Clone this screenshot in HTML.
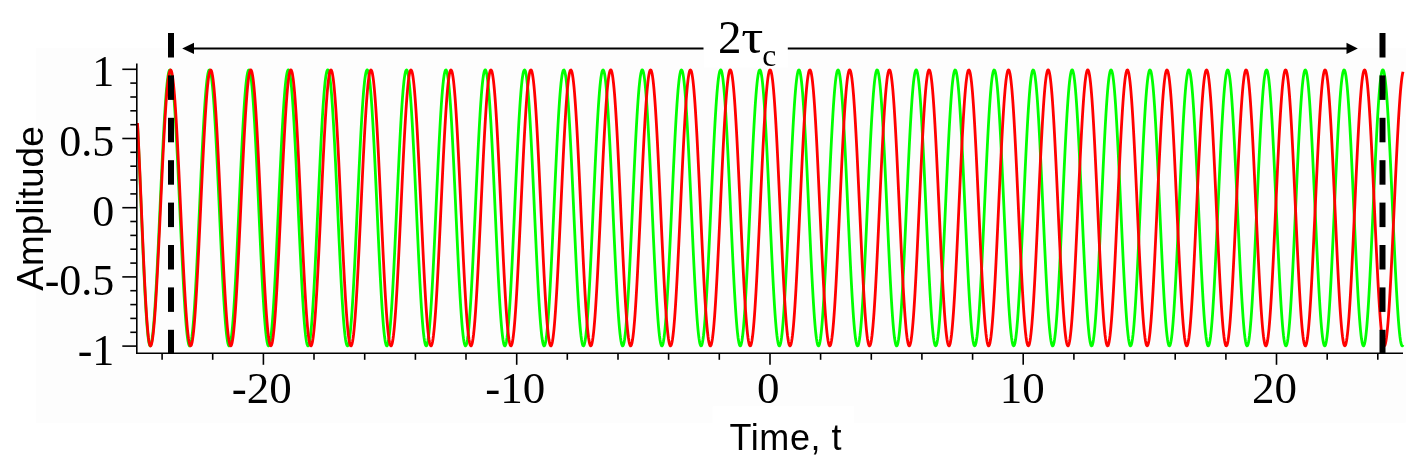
<!DOCTYPE html>
<html><head><meta charset="utf-8"><title>Coherence time</title>
<style>
html,body{margin:0;padding:0;background:#fff;}
body{width:1422px;height:475px;overflow:hidden;position:relative;}
svg{position:absolute;left:0;top:0;display:block;}
.serif{font-family:"Liberation Serif",serif;}
.sans{font-family:"Liberation Sans",sans-serif;}
</style></head><body>
<svg width="1422" height="475" viewBox="0 0 1422 475">
<rect width="1422" height="475" fill="#fff"/>
<rect x="36" y="48" width="1369.7" height="374.7" fill="#fdfdfd"/>
<rect x="703.7" y="47" width="84" height="20.5" fill="#fff"/>
<rect x="712.6" y="406.3" width="141.4" height="20" fill="#fff"/>
<polyline fill="none" stroke="#00ff00" stroke-width="2.8" stroke-linejoin="round" points="137.5,124.9 138.0,134.8 138.5,145.3 139.0,156.3 139.5,167.6 140.0,179.3 140.5,191.2 141.0,203.2 141.5,215.3 142.0,227.3 142.5,239.2 143.0,250.8 143.5,262.1 144.0,272.9 144.5,283.3 145.0,293.1 145.5,302.3 146.0,310.7 146.5,318.3 147.0,325.1 147.5,331.1 148.0,336.0 148.5,340.0 149.0,343.0 149.5,344.9 150.0,345.8 150.5,345.7 151.0,344.6 151.5,342.7 152.0,339.9 152.5,336.3 153.0,331.9 153.5,326.7 154.0,320.8 154.5,314.1 155.0,306.8 155.5,298.8 156.0,290.3 156.5,281.3 157.0,271.8 157.5,261.8 158.0,251.6 158.5,241.0 159.0,230.3 159.5,219.4 160.0,208.5 160.5,197.5 161.0,186.6 161.5,175.8 162.0,165.3 162.5,155.0 163.0,145.0 163.5,135.5 164.0,126.4 164.5,117.8 165.0,109.8 165.5,102.4 166.0,95.7 166.5,89.6 167.0,84.4 167.5,79.9 168.0,76.2 168.5,73.3 169.0,71.3 169.5,70.2 170.0,69.9 170.5,70.5 171.0,72.0 171.5,74.3 172.0,77.5 172.5,81.5 173.0,86.3 173.5,91.8 174.0,98.1 174.5,105.1 175.0,112.8 175.5,121.0 176.0,129.8 176.5,139.1 177.0,148.8 177.5,158.9 178.0,169.3 178.5,180.0 179.0,190.8 179.5,201.7 180.0,212.7 180.5,223.6 181.0,234.5 181.5,245.1 182.0,255.6 182.5,265.7 183.0,275.5 183.5,284.8 184.0,293.7 184.5,302.0 185.0,309.7 185.5,316.8 186.0,323.2 186.5,328.9 187.0,333.7 187.5,337.8 188.0,341.1 188.5,343.6 189.0,345.1 189.5,345.9 190.0,345.7 190.5,344.7 191.0,342.8 191.5,340.0 192.0,336.4 192.5,332.0 193.0,326.9 193.5,320.9 194.0,314.3 194.5,307.0 195.0,299.0 195.5,290.5 196.0,281.4 196.5,271.9 197.0,262.0 197.5,251.7 198.0,241.2 198.5,230.5 199.0,219.6 199.5,208.6 200.0,197.6 200.5,186.7 201.0,176.0 201.5,165.4 202.0,155.1 202.5,145.1 203.0,135.6 203.5,126.5 204.0,117.9 204.5,109.8 205.0,102.4 205.5,95.7 206.0,89.7 206.5,84.4 207.0,79.9 207.5,76.2 208.0,73.3 208.5,71.3 209.0,70.2 209.5,69.9 210.0,70.5 210.5,72.0 211.0,74.3 211.5,77.5 212.0,81.5 212.5,86.3 213.0,91.9 213.5,98.2 214.0,105.2 214.5,112.8 215.0,121.1 215.5,129.9 216.0,139.2 216.5,148.9 217.0,159.0 217.5,169.4 218.0,180.1 218.5,190.9 219.0,201.8 219.5,212.8 220.0,223.8 220.5,234.6 221.0,245.3 221.5,255.7 222.0,265.9 222.5,275.6 223.0,285.0 223.5,293.8 224.0,302.1 224.5,309.9 225.0,316.9 225.5,323.3 226.0,329.0 226.5,333.8 227.0,337.9 227.5,341.2 228.0,343.6 228.5,345.2 229.0,345.9 229.5,345.7 230.0,344.6 230.5,342.7 231.0,339.9 231.5,336.3 232.0,331.9 232.5,326.7 233.0,320.7 233.5,314.1 234.0,306.7 234.5,298.8 235.0,290.2 235.5,281.1 236.0,271.6 236.5,261.7 237.0,251.4 237.5,240.8 238.0,230.1 238.5,219.2 239.0,208.2 239.5,197.2 240.0,186.3 240.5,175.6 241.0,165.0 241.5,154.7 242.0,144.8 242.5,135.2 243.0,126.1 243.5,117.5 244.0,109.5 244.5,102.1 245.0,95.4 245.5,89.4 246.0,84.2 246.5,79.7 247.0,76.0 247.5,73.2 248.0,71.3 248.5,70.2 249.0,69.9 249.5,70.6 250.0,72.1 250.5,74.5 251.0,77.7 251.5,81.7 252.0,86.6 252.5,92.2 253.0,98.5 253.5,105.6 254.0,113.3 254.5,121.5 255.0,130.4 255.5,139.7 256.0,149.5 256.5,159.6 257.0,170.0 257.5,180.7 258.0,191.5 258.5,202.5 259.0,213.5 259.5,224.4 260.0,235.3 260.5,245.9 261.0,256.4 261.5,266.5 262.0,276.3 262.5,285.6 263.0,294.4 263.5,302.7 264.0,310.4 264.5,317.4 265.0,323.7 265.5,329.3 266.0,334.2 266.5,338.2 267.0,341.4 267.5,343.8 268.0,345.3 268.5,345.9 269.0,345.6 269.5,344.5 270.0,342.5 270.5,339.7 271.0,336.0 271.5,331.5 272.0,326.3 272.5,320.2 273.0,313.5 273.5,306.1 274.0,298.1 274.5,289.5 275.0,280.4 275.5,270.8 276.0,260.8 276.5,250.5 277.0,240.0 277.5,229.2 278.0,218.3 278.5,207.3 279.0,196.3 279.5,185.4 280.0,174.6 280.5,164.1 281.0,153.8 281.5,143.9 282.0,134.4 282.5,125.3 283.0,116.8 283.5,108.8 284.0,101.5 284.5,94.8 285.0,88.9 285.5,83.7 286.0,79.3 286.5,75.7 287.0,73.0 287.5,71.1 288.0,70.1 288.5,69.9 289.0,70.7 289.5,72.3 290.0,74.7 290.5,78.1 291.0,82.2 291.5,87.1 292.0,92.8 292.5,99.2 293.0,106.3 293.5,114.1 294.0,122.4 294.5,131.3 295.0,140.7 295.5,150.5 296.0,160.7 296.5,171.2 297.0,181.9 297.5,192.7 298.0,203.7 298.5,214.7 299.0,225.6 299.5,236.5 300.0,247.1 300.5,257.5 301.0,267.6 301.5,277.3 302.0,286.6 302.5,295.4 303.0,303.6 303.5,311.2 304.0,318.2 304.5,324.4 305.0,329.9 305.5,334.7 306.0,338.6 306.5,341.7 307.0,344.0 307.5,345.4 308.0,345.9 308.5,345.5 309.0,344.3 309.5,342.2 310.0,339.3 310.5,335.5 311.0,330.9 311.5,325.5 312.0,319.4 312.5,312.6 313.0,305.1 313.5,297.0 314.0,288.3 314.5,279.1 315.0,269.5 315.5,259.5 316.0,249.1 316.5,238.5 317.0,227.7 317.5,216.8 318.0,205.8 318.5,194.8 319.0,183.9 319.5,173.2 320.0,162.6 320.5,152.4 321.0,142.5 321.5,133.1 322.0,124.1 322.5,115.6 323.0,107.7 323.5,100.5 324.0,93.9 324.5,88.1 325.0,83.0 325.5,78.7 326.0,75.3 326.5,72.7 327.0,70.9 327.5,70.0 328.0,70.0 328.5,70.9 329.0,72.6 329.5,75.2 330.0,78.6 330.5,82.9 331.0,87.9 331.5,93.7 332.0,100.3 332.5,107.5 333.0,115.4 333.5,123.8 334.0,132.8 334.5,142.2 335.0,152.1 335.5,162.3 336.0,172.9 336.5,183.6 337.0,194.5 337.5,205.5 338.0,216.5 338.5,227.4 339.0,238.2 339.5,248.8 340.0,259.2 340.5,269.3 341.0,278.9 341.5,288.1 342.0,296.8 342.5,304.9 343.0,312.4 343.5,319.3 344.0,325.4 344.5,330.8 345.0,335.4 345.5,339.2 346.0,342.2 346.5,344.3 347.0,345.5 347.5,345.9 348.0,345.4 348.5,344.0 349.0,341.8 349.5,338.7 350.0,334.7 350.5,330.0 351.0,324.5 351.5,318.3 352.0,311.3 352.5,303.7 353.0,295.5 353.5,286.7 354.0,277.4 354.5,267.7 355.0,257.6 355.5,247.2 356.0,236.5 356.5,225.7 357.0,214.7 357.5,203.7 358.0,192.8 358.5,181.9 359.0,171.2 359.5,160.7 360.0,150.5 360.5,140.7 361.0,131.3 361.5,122.4 362.0,114.0 362.5,106.3 363.0,99.2 363.5,92.7 364.0,87.1 364.5,82.1 365.0,78.0 365.5,74.7 366.0,72.3 366.5,70.7 367.0,69.9 367.5,70.1 368.0,71.1 368.5,73.0 369.0,75.8 369.5,79.4 370.0,83.8 370.5,89.0 371.0,95.0 371.5,101.7 372.0,109.0 372.5,117.0 373.0,125.6 373.5,134.7 374.0,144.2 374.5,154.2 375.0,164.5 375.5,175.1 376.0,185.9 376.5,196.8 377.0,207.8 377.5,218.8 378.0,229.7 378.5,240.5 379.0,251.1 379.5,261.4 380.0,271.4 380.5,280.9 381.0,290.0 381.5,298.6 382.0,306.6 382.5,314.0 383.0,320.7 383.5,326.6 384.0,331.9 384.5,336.3 385.0,339.9 385.5,342.7 386.0,344.6 386.5,345.7 387.0,345.9 387.5,345.2 388.0,343.6 388.5,341.1 389.0,337.9 389.5,333.7 390.0,328.8 390.5,323.2 391.0,316.7 391.5,309.6 392.0,301.9 392.5,293.5 393.0,284.6 393.5,275.2 394.0,265.4 394.5,255.2 395.0,244.7 395.5,234.0 396.0,223.1 396.5,212.2 397.0,201.2 397.5,190.2 398.0,179.3 398.5,168.7 399.0,158.2 399.5,148.1 400.0,138.4 400.5,129.1 401.0,120.3 401.5,112.1 402.0,104.5 402.5,97.5 403.0,91.3 403.5,85.8 404.0,81.0 404.5,77.1 405.0,74.0 405.5,71.8 406.0,70.4 406.5,69.9 407.0,70.3 407.5,71.5 408.0,73.7 408.5,76.6 409.0,80.4 409.5,85.1 410.0,90.5 410.5,96.6 411.0,103.5 411.5,111.0 412.0,119.2 412.5,127.9 413.0,137.1 413.5,146.8 414.0,156.8 414.5,167.2 415.0,177.8 415.5,188.7 416.0,199.6 416.5,210.6 417.0,221.6 417.5,232.5 418.0,243.3 418.5,253.8 419.0,264.0 419.5,273.9 420.0,283.4 420.5,292.3 421.0,300.8 421.5,308.6 422.0,315.8 422.5,322.3 423.0,328.1 423.5,333.1 424.0,337.4 424.5,340.8 425.0,343.3 425.5,345.0 426.0,345.8 426.5,345.8 427.0,344.8 427.5,343.0 428.0,340.3 428.5,336.8 429.0,332.5 429.5,327.3 430.0,321.4 430.5,314.8 431.0,307.5 431.5,299.6 432.0,291.1 432.5,282.0 433.0,272.5 433.5,262.6 434.0,252.3 434.5,241.7 435.0,231.0 435.5,220.0 436.0,209.0 436.5,198.0 437.0,187.1 437.5,176.3 438.0,165.6 438.5,155.3 439.0,145.3 439.5,135.7 440.0,126.5 440.5,117.9 441.0,109.8 441.5,102.4 442.0,95.6 442.5,89.6 443.0,84.3 443.5,79.8 444.0,76.1 444.5,73.3 445.0,71.3 445.5,70.2 446.0,69.9 446.5,70.6 447.0,72.1 447.5,74.5 448.0,77.7 448.5,81.7 449.0,86.6 449.5,92.3 450.0,98.6 450.5,105.7 451.0,113.4 451.5,121.7 452.0,130.6 452.5,140.0 453.0,149.8 453.5,160.0 454.0,170.4 454.5,181.2 455.0,192.0 455.5,203.0 456.0,214.1 456.5,225.0 457.0,235.9 457.5,246.6 458.0,257.0 458.5,267.2 459.0,276.9 459.5,286.2 460.0,295.1 460.5,303.3 461.0,311.0 461.5,318.0 462.0,324.3 462.5,329.8 463.0,334.6 463.5,338.5 464.0,341.7 464.5,344.0 465.0,345.4 465.5,345.9 466.0,345.5 466.5,344.3 467.0,342.2 467.5,339.3 468.0,335.5 468.5,330.9 469.0,325.5 469.5,319.4 470.0,312.5 470.5,305.0 471.0,296.9 471.5,288.2 472.0,278.9 472.5,269.3 473.0,259.2 473.5,248.8 474.0,238.2 474.5,227.3 475.0,216.4 475.5,205.3 476.0,194.3 476.5,183.4 477.0,172.7 477.5,162.1 478.0,151.9 478.5,142.0 479.0,132.5 479.5,123.5 480.0,115.1 480.5,107.2 481.0,100.0 481.5,93.5 482.0,87.7 482.5,82.7 483.0,78.4 483.5,75.0 484.0,72.5 484.5,70.8 485.0,70.0 485.5,70.0 486.0,71.0 486.5,72.8 487.0,75.5 487.5,79.0 488.0,83.4 488.5,88.5 489.0,94.4 489.5,101.0 490.0,108.4 490.5,116.3 491.0,124.8 491.5,133.9 492.0,143.4 492.5,153.4 493.0,163.7 493.5,174.2 494.0,185.0 494.5,196.0 495.0,207.0 495.5,218.0 496.0,229.0 496.5,239.8 497.0,250.4 497.5,260.8 498.0,270.8 498.5,280.4 499.0,289.5 499.5,298.1 500.0,306.2 500.5,313.6 501.0,320.4 501.5,326.4 502.0,331.7 502.5,336.1 503.0,339.8 503.5,342.6 504.0,344.6 504.5,345.7 505.0,345.9 505.5,345.2 506.0,343.6 506.5,341.2 507.0,338.0 507.5,333.9 508.0,329.0 508.5,323.3 509.0,316.9 509.5,309.7 510.0,302.0 510.5,293.6 511.0,284.7 511.5,275.3 512.0,265.5 512.5,255.3 513.0,244.8 513.5,234.0 514.0,223.1 514.5,212.1 515.0,201.1 515.5,190.1 516.0,179.2 516.5,168.6 517.0,158.1 517.5,148.0 518.0,138.3 518.5,129.0 519.0,120.2 519.5,112.0 520.0,104.3 520.5,97.4 521.0,91.1 521.5,85.6 522.0,80.9 522.5,77.0 523.0,73.9 523.5,71.7 524.0,70.4 524.5,69.9 525.0,70.3 525.5,71.6 526.0,73.8 526.5,76.8 527.0,80.7 527.5,85.3 528.0,90.8 528.5,97.0 529.0,103.9 529.5,111.5 530.0,119.7 530.5,128.4 531.0,137.7 531.5,147.4 532.0,157.5 532.5,167.9 533.0,178.6 533.5,189.5 534.0,200.5 534.5,211.5 535.0,222.5 535.5,233.4 536.0,244.2 536.5,254.7 537.0,264.9 537.5,274.8 538.0,284.2 538.5,293.2 539.0,301.6 539.5,309.4 540.0,316.5 540.5,323.0 541.0,328.7 541.5,333.6 542.0,337.8 542.5,341.1 543.0,343.5 543.5,345.1 544.0,345.9 544.5,345.7 545.0,344.6 545.5,342.7 546.0,339.9 546.5,336.3 547.0,331.9 547.5,326.6 548.0,320.6 548.5,313.9 549.0,306.5 549.5,298.5 550.0,289.9 550.5,280.7 551.0,271.1 551.5,261.1 552.0,250.8 552.5,240.2 553.0,229.3 553.5,218.4 554.0,207.3 554.5,196.3 555.0,185.4 555.5,174.6 556.0,164.0 556.5,153.7 557.0,143.7 557.5,134.1 558.0,125.0 558.5,116.5 559.0,108.5 559.5,101.2 560.0,94.5 560.5,88.6 561.0,83.4 561.5,79.1 562.0,75.5 562.5,72.8 563.0,71.0 563.5,70.1 564.0,70.0 564.5,70.8 565.0,72.5 565.5,75.0 566.0,78.4 566.5,82.7 567.0,87.7 567.5,93.5 568.0,100.0 568.5,107.3 569.0,115.1 569.5,123.6 570.0,132.6 570.5,142.1 571.0,152.0 571.5,162.2 572.0,172.8 572.5,183.6 573.0,194.5 573.5,205.5 574.0,216.6 574.5,227.6 575.0,238.4 575.5,249.1 576.0,259.5 576.5,269.5 577.0,279.2 577.5,288.4 578.0,297.1 578.5,305.3 579.0,312.8 579.5,319.6 580.0,325.7 580.5,331.1 581.0,335.7 581.5,339.4 582.0,342.3 582.5,344.4 583.0,345.6 583.5,345.9 584.0,345.3 584.5,343.8 585.0,341.5 585.5,338.3 586.0,334.3 586.5,329.5 587.0,323.9 587.5,317.5 588.0,310.5 588.5,302.7 589.0,294.4 589.5,285.6 590.0,276.2 590.5,266.4 591.0,256.2 591.5,245.7 592.0,235.0 592.5,224.1 593.0,213.1 593.5,202.0 594.0,191.0 594.5,180.1 595.0,169.4 595.5,158.9 596.0,148.7 596.5,139.0 597.0,129.6 597.5,120.8 598.0,112.5 598.5,104.8 599.0,97.8 599.5,91.5 600.0,86.0 600.5,81.2 601.0,77.2 601.5,74.1 602.0,71.8 602.5,70.4 603.0,69.9 603.5,70.3 604.0,71.5 604.5,73.6 605.0,76.6 605.5,80.4 606.0,85.1 606.5,90.5 607.0,96.7 607.5,103.6 608.0,111.1 608.5,119.3 609.0,128.1 609.5,137.3 610.0,147.0 610.5,157.1 611.0,167.5 611.5,178.2 612.0,189.1 612.5,200.1 613.0,211.1 613.5,222.2 614.0,233.1 614.5,243.9 615.0,254.4 615.5,264.7 616.0,274.5 616.5,284.0 617.0,293.0 617.5,301.4 618.0,309.2 618.5,316.4 619.0,322.9 619.5,328.6 620.0,333.6 620.5,337.7 621.0,341.0 621.5,343.5 622.0,345.1 622.5,345.9 623.0,345.7 623.5,344.7 624.0,342.7 624.5,340.0 625.0,336.3 625.5,331.9 626.0,326.6 626.5,320.6 627.0,313.9 627.5,306.5 628.0,298.4 628.5,289.8 629.0,280.7 629.5,271.0 630.0,261.0 630.5,250.7 631.0,240.0 631.5,229.2 632.0,218.2 632.5,207.2 633.0,196.1 633.5,185.2 634.0,174.3 634.5,163.7 635.0,153.4 635.5,143.4 636.0,133.9 636.5,124.8 637.0,116.3 637.5,108.3 638.0,101.0 638.5,94.3 639.0,88.4 639.5,83.3 640.0,78.9 640.5,75.4 641.0,72.8 641.5,71.0 642.0,70.0 642.5,70.0 643.0,70.8 643.5,72.6 644.0,75.2 644.5,78.6 645.0,82.9 645.5,88.0 646.0,93.8 646.5,100.4 647.0,107.7 647.5,115.6 648.0,124.1 648.5,133.1 649.0,142.6 649.5,152.6 650.0,162.9 650.5,173.5 651.0,184.3 651.5,195.2 652.0,206.3 652.5,217.3 653.0,228.3 653.5,239.2 654.0,249.8 654.5,260.2 655.0,270.3 655.5,279.9 656.0,289.1 656.5,297.8 657.0,305.9 657.5,313.3 658.0,320.1 658.5,326.2 659.0,331.5 659.5,336.0 660.0,339.7 660.5,342.6 661.0,344.5 661.5,345.7 662.0,345.9 662.5,345.2 663.0,343.7 663.5,341.2 664.0,338.0 664.5,333.9 665.0,329.0 665.5,323.3 666.0,316.8 666.5,309.7 667.0,301.9 667.5,293.5 668.0,284.6 668.5,275.1 669.0,265.3 669.5,255.0 670.0,244.5 670.5,233.7 671.0,222.8 671.5,211.8 672.0,200.7 672.5,189.7 673.0,178.8 673.5,168.1 674.0,157.6 674.5,147.5 675.0,137.8 675.5,128.5 676.0,119.7 676.5,111.5 677.0,103.9 677.5,97.0 678.0,90.7 678.5,85.3 679.0,80.6 679.5,76.7 680.0,73.7 680.5,71.6 681.0,70.3 681.5,69.9 682.0,70.4 682.5,71.8 683.0,74.0 683.5,77.1 684.0,81.1 684.5,85.8 685.0,91.4 685.5,97.7 686.0,104.7 686.5,112.3 687.0,120.6 687.5,129.5 688.0,138.8 688.5,148.6 689.0,158.8 689.5,169.3 690.0,180.0 690.5,190.9 691.0,201.9 691.5,213.0 692.0,224.0 692.5,234.9 693.0,245.7 693.5,256.2 694.0,266.4 694.5,276.2 695.0,285.6 695.5,294.5 696.0,302.8 696.5,310.5 697.0,317.6 697.5,324.0 698.0,329.6 698.5,334.4 699.0,338.4 699.5,341.6 700.0,343.9 700.5,345.3 701.0,345.9 701.5,345.6 702.0,344.4 702.5,342.3 703.0,339.3 703.5,335.5 704.0,330.9 704.5,325.5 705.0,319.3 705.5,312.4 706.0,304.9 706.5,296.7 707.0,288.0 707.5,278.7 708.0,269.0 708.5,258.9 709.0,248.4 709.5,237.7 710.0,226.8 710.5,215.8 711.0,204.8 711.5,193.7 712.0,182.8 712.5,172.0 713.0,161.4 713.5,151.2 714.0,141.3 714.5,131.8 715.0,122.8 715.5,114.4 716.0,106.6 716.5,99.4 717.0,92.9 717.5,87.2 718.0,82.2 718.5,78.0 719.0,74.7 719.5,72.2 720.0,70.7 720.5,69.9 721.0,70.1 721.5,71.2 722.0,73.1 722.5,75.9 723.0,79.6 723.5,84.1 724.0,89.3 724.5,95.4 725.0,102.2 725.5,109.6 726.0,117.7 726.5,126.3 727.0,135.5 727.5,145.2 728.0,155.2 728.5,165.6 729.0,176.3 729.5,187.1 730.0,198.1 730.5,209.2 731.0,220.3 731.5,231.2 732.0,242.1 732.5,252.7 733.0,263.0 733.5,272.9 734.0,282.5 734.5,291.6 735.0,300.1 735.5,308.0 736.0,315.3 736.5,321.9 737.0,327.8 737.5,332.9 738.0,337.2 738.5,340.6 739.0,343.2 739.5,345.0 740.0,345.8 740.5,345.8 741.0,344.8 741.5,343.0 742.0,340.4 742.5,336.8 743.0,332.5 743.5,327.3 744.0,321.4 744.5,314.7 745.0,307.4 745.5,299.4 746.0,290.8 746.5,281.7 747.0,272.1 747.5,262.2 748.0,251.8 748.5,241.2 749.0,230.3 749.5,219.3 750.0,208.3 750.5,197.2 751.0,186.2 751.5,175.4 752.0,164.7 752.5,154.4 753.0,144.3 753.5,134.7 754.0,125.6 754.5,117.0 755.0,108.9 755.5,101.5 756.0,94.8 756.5,88.8 757.0,83.6 757.5,79.2 758.0,75.6 758.5,72.9 759.0,71.0 759.5,70.1 760.0,70.0 760.5,70.8 761.0,72.4 761.5,75.0 762.0,78.4 762.5,82.6 763.0,87.7 763.5,93.5 764.0,100.1 764.5,107.3 765.0,115.2 765.5,123.7 766.0,132.7 766.5,142.3 767.0,152.2 767.5,162.5 768.0,173.1 768.5,183.9 769.0,194.9 769.5,206.0 770.0,217.0 770.5,228.1 771.0,238.9 771.5,249.6 772.0,260.0 772.5,270.1 773.0,279.8 773.5,289.0 774.0,297.7 774.5,305.8 775.0,313.3 775.5,320.1 776.0,326.2 776.5,331.5 777.0,336.0 777.5,339.7 778.0,342.6 778.5,344.6 779.0,345.7 779.5,345.9 780.0,345.2 780.5,343.6 781.0,341.2 781.5,337.9 782.0,333.8 782.5,328.8 783.0,323.1 783.5,316.6 784.0,309.5 784.5,301.7 785.0,293.2 785.5,284.3 786.0,274.8 786.5,264.9 787.0,254.6 787.5,244.1 788.0,233.3 788.5,222.3 789.0,211.2 789.5,200.2 790.0,189.1 790.5,178.2 791.0,167.5 791.5,157.1 792.0,146.9 792.5,137.2 793.0,127.9 793.5,119.2 794.0,111.0 794.5,103.4 795.0,96.5 795.5,90.3 796.0,84.9 796.5,80.3 797.0,76.5 797.5,73.5 798.0,71.4 798.5,70.2 799.0,69.9 799.5,70.5 800.0,71.9 800.5,74.3 801.0,77.5 801.5,81.5 802.0,86.3 802.5,92.0 803.0,98.3 803.5,105.4 804.0,113.2 804.5,121.5 805.0,130.5 805.5,139.9 806.0,149.7 806.5,160.0 807.0,170.5 807.5,181.3 808.0,192.2 808.5,203.3 809.0,214.4 809.5,225.4 810.0,236.3 810.5,247.1 811.0,257.6 811.5,267.7 812.0,277.5 812.5,286.9 813.0,295.7 813.5,303.9 814.0,311.6 814.5,318.6 815.0,324.8 815.5,330.3 816.0,335.0 816.5,338.9 817.0,342.0 817.5,344.2 818.0,345.5 818.5,345.9 819.0,345.4 819.5,344.1 820.0,341.8 820.5,338.7 821.0,334.8 821.5,330.0 822.0,324.5 822.5,318.2 823.0,311.1 823.5,303.5 824.0,295.2 824.5,286.3 825.0,276.9 825.5,267.1 826.0,256.9 826.5,246.4 827.0,235.7 827.5,224.7 828.0,213.7 828.5,202.6 829.0,191.5 829.5,180.6 830.0,169.8 830.5,159.3 831.0,149.1 831.5,139.2 832.0,129.9 832.5,121.0 833.0,112.7 833.5,104.9 834.0,97.9 834.5,91.6 835.0,86.0 835.5,81.2 836.0,77.2 836.5,74.1 837.0,71.8 837.5,70.4 838.0,69.9 838.5,70.3 839.0,71.6 839.5,73.7 840.0,76.7 840.5,80.6 841.0,85.3 841.5,90.8 842.0,97.0 842.5,104.0 843.0,111.6 843.5,119.8 844.0,128.7 844.5,138.0 845.0,147.8 845.5,157.9 846.0,168.4 846.5,179.2 847.0,190.1 847.5,201.1 848.0,212.2 848.5,223.3 849.0,234.2 849.5,245.0 850.0,255.6 850.5,265.8 851.0,275.7 851.5,285.1 852.0,294.1 852.5,302.4 853.0,310.2 853.5,317.3 854.0,323.7 854.5,329.4 855.0,334.2 855.5,338.3 856.0,341.5 856.5,343.8 857.0,345.3 857.5,345.9 858.0,345.6 858.5,344.4 859.0,342.3 859.5,339.3 860.0,335.5 860.5,330.9 861.0,325.5 861.5,319.3 862.0,312.4 862.5,304.9 863.0,296.7 863.5,287.9 864.0,278.6 864.5,268.8 865.0,258.7 865.5,248.2 866.0,237.5 866.5,226.6 867.0,215.5 867.5,204.4 868.0,193.4 868.5,182.4 869.0,171.6 869.5,161.0 870.0,150.7 870.5,140.8 871.0,131.4 871.5,122.4 872.0,114.0 872.5,106.1 873.0,99.0 873.5,92.5 874.0,86.8 874.5,81.9 875.0,77.8 875.5,74.5 876.0,72.1 876.5,70.6 877.0,69.9 877.5,70.2 878.0,71.3 878.5,73.3 879.0,76.2 879.5,80.0 880.0,84.5 880.5,89.9 881.0,96.0 881.5,102.9 882.0,110.4 882.5,118.6 883.0,127.3 883.5,136.6 884.0,146.3 884.5,156.4 885.0,166.9 885.5,177.6 886.0,188.5 886.5,199.5 887.0,210.6 887.5,221.7 888.0,232.7 888.5,243.5 889.0,254.1 889.5,264.4 890.0,274.4 890.5,283.9 891.0,292.9 891.5,301.3 892.0,309.2 892.5,316.4 893.0,322.9 893.5,328.7 894.0,333.6 894.5,337.8 895.0,341.1 895.5,343.6 896.0,345.2 896.5,345.9 897.0,345.7 897.5,344.6 898.0,342.6 898.5,339.8 899.0,336.1 899.5,331.6 900.0,326.2 900.5,320.1 901.0,313.3 901.5,305.8 902.0,297.7 902.5,289.0 903.0,279.8 903.5,270.1 904.0,259.9 904.5,249.5 905.0,238.8 905.5,227.9 906.0,216.9 906.5,205.8 907.0,194.7 907.5,183.7 908.0,172.8 908.5,162.2 909.0,151.9 909.5,141.9 910.0,132.4 910.5,123.4 911.0,114.9 911.5,107.0 912.0,99.7 912.5,93.2 913.0,87.4 913.5,82.4 914.0,78.2 914.5,74.8 915.0,72.3 915.5,70.7 916.0,69.9 916.5,70.1 917.0,71.1 917.5,73.1 918.0,75.9 918.5,79.5 919.0,84.0 919.5,89.3 920.0,95.4 920.5,102.2 921.0,109.6 921.5,117.7 922.0,126.4 922.5,135.6 923.0,145.3 923.5,155.4 924.0,165.8 924.5,176.6 925.0,187.5 925.5,198.5 926.0,209.6 926.5,220.7 927.0,231.7 927.5,242.5 928.0,253.2 928.5,263.5 929.0,273.5 929.5,283.0 930.0,292.1 930.5,300.6 931.0,308.5 931.5,315.8 932.0,322.4 932.5,328.2 933.0,333.2 933.5,337.5 934.0,340.9 934.5,343.4 935.0,345.1 935.5,345.8 936.0,345.7 936.5,344.7 937.0,342.8 937.5,340.0 938.0,336.4 938.5,331.9 939.0,326.7 939.5,320.6 940.0,313.9 940.5,306.4 941.0,298.3 941.5,289.7 942.0,280.4 942.5,270.8 943.0,260.7 943.5,250.3 944.0,239.6 944.5,228.7 945.0,217.6 945.5,206.5 946.0,195.4 946.5,184.4 947.0,173.6 947.5,162.9 948.0,152.6 948.5,142.6 949.0,133.0 949.5,123.9 950.0,115.4 950.5,107.5 951.0,100.2 951.5,93.6 952.0,87.7 952.5,82.7 953.0,78.4 953.5,75.0 954.0,72.4 954.5,70.8 955.0,70.0 955.5,70.1 956.0,71.1 956.5,72.9 957.0,75.7 957.5,79.3 958.0,83.8 958.5,89.0 959.0,95.0 959.5,101.8 960.0,109.2 960.5,117.3 961.0,126.0 961.5,135.2 962.0,144.9 962.5,154.9 963.0,165.4 963.5,176.1 964.0,187.0 964.5,198.0 965.0,209.1 965.5,220.2 966.0,231.2 966.5,242.1 967.0,252.7 967.5,263.1 968.0,273.1 968.5,282.7 969.0,291.7 969.5,300.3 970.0,308.2 970.5,315.5 971.0,322.1 971.5,328.0 972.0,333.1 972.5,337.3 973.0,340.8 973.5,343.3 974.0,345.0 974.5,345.8 975.0,345.7 975.5,344.7 976.0,342.9 976.5,340.1 977.0,336.5 977.5,332.1 978.0,326.8 978.5,320.8 979.0,314.1 979.5,306.6 980.0,298.5 980.5,289.9 981.0,280.7 981.5,271.0 982.0,260.9 982.5,250.5 983.0,239.8 983.5,228.9 984.0,217.8 984.5,206.7 985.0,195.6 985.5,184.6 986.0,173.7 986.5,163.1 987.0,152.7 987.5,142.7 988.0,133.1 988.5,124.1 989.0,115.5 989.5,107.6 990.0,100.3 990.5,93.7 991.0,87.8 991.5,82.7 992.0,78.4 992.5,75.0 993.0,72.5 993.5,70.8 994.0,70.0 994.5,70.1 995.0,71.1 995.5,72.9 996.0,75.7 996.5,79.3 997.0,83.8 997.5,89.0 998.0,95.0 998.5,101.8 999.0,109.2 999.5,117.3 1000.0,126.0 1000.5,135.2 1001.0,144.9 1001.5,155.0 1002.0,165.4 1002.5,176.1 1003.0,187.0 1003.5,198.1 1004.0,209.2 1004.5,220.3 1005.0,231.3 1005.5,242.2 1006.0,252.8 1006.5,263.2 1007.0,273.2 1007.5,282.8 1008.0,291.8 1008.5,300.4 1009.0,308.3 1009.5,315.6 1010.0,322.2 1010.5,328.1 1011.0,333.1 1011.5,337.4 1012.0,340.8 1012.5,343.4 1013.0,345.1 1013.5,345.8 1014.0,345.7 1014.5,344.7 1015.0,342.8 1015.5,340.1 1016.0,336.4 1016.5,332.0 1017.0,326.7 1017.5,320.7 1018.0,313.9 1018.5,306.4 1019.0,298.3 1019.5,289.6 1020.0,280.4 1020.5,270.7 1021.0,260.6 1021.5,250.2 1022.0,239.5 1022.5,228.6 1023.0,217.5 1023.5,206.4 1024.0,195.3 1024.5,184.3 1025.0,173.4 1025.5,162.7 1026.0,152.4 1026.5,142.4 1027.0,132.8 1027.5,123.7 1028.0,115.2 1028.5,107.3 1029.0,100.0 1029.5,93.4 1030.0,87.6 1030.5,82.5 1031.0,78.3 1031.5,74.9 1032.0,72.4 1032.5,70.7 1033.0,70.0 1033.5,70.1 1034.0,71.1 1034.5,73.0 1035.0,75.8 1035.5,79.5 1036.0,84.0 1036.5,89.3 1037.0,95.3 1037.5,102.1 1038.0,109.6 1038.5,117.7 1039.0,126.4 1039.5,135.7 1040.0,145.4 1040.5,155.5 1041.0,166.0 1041.5,176.7 1042.0,187.6 1042.5,198.7 1043.0,209.8 1043.5,220.9 1044.0,231.9 1044.5,242.8 1045.0,253.4 1045.5,263.8 1046.0,273.8 1046.5,283.3 1047.0,292.4 1047.5,300.9 1048.0,308.8 1048.5,316.1 1049.0,322.6 1049.5,328.4 1050.0,333.4 1050.5,337.7 1051.0,341.0 1051.5,343.5 1052.0,345.1 1052.5,345.9 1053.0,345.7 1053.5,344.6 1054.0,342.7 1054.5,339.8 1055.0,336.1 1055.5,331.6 1056.0,326.3 1056.5,320.2 1057.0,313.4 1057.5,305.8 1058.0,297.7 1058.5,289.0 1059.0,279.7 1059.5,270.0 1060.0,259.8 1060.5,249.4 1061.0,238.6 1061.5,227.7 1062.0,216.6 1062.5,205.5 1063.0,194.4 1063.5,183.4 1064.0,172.5 1064.5,161.9 1065.0,151.5 1065.5,141.6 1066.0,132.0 1066.5,123.0 1067.0,114.5 1067.5,106.6 1068.0,99.4 1068.5,92.9 1069.0,87.1 1069.5,82.1 1070.0,78.0 1070.5,74.6 1071.0,72.2 1071.5,70.6 1072.0,69.9 1072.5,70.1 1073.0,71.3 1073.5,73.3 1074.0,76.1 1074.5,79.9 1075.0,84.5 1075.5,89.8 1076.0,96.0 1076.5,102.8 1077.0,110.4 1077.5,118.6 1078.0,127.4 1078.5,136.6 1079.0,146.4 1079.5,156.6 1080.0,167.0 1080.5,177.8 1081.0,188.8 1081.5,199.8 1082.0,211.0 1082.5,222.1 1083.0,233.1 1083.5,243.9 1084.0,254.6 1084.5,264.9 1085.0,274.8 1085.5,284.3 1086.0,293.4 1086.5,301.8 1087.0,309.7 1087.5,316.8 1088.0,323.3 1088.5,329.0 1089.0,334.0 1089.5,338.1 1090.0,341.4 1090.5,343.7 1091.0,345.3 1091.5,345.9 1092.0,345.6 1092.5,344.4 1093.0,342.4 1093.5,339.4 1094.0,335.6 1094.5,331.0 1095.0,325.6 1095.5,319.4 1096.0,312.5 1096.5,304.9 1097.0,296.6 1097.5,287.8 1098.0,278.5 1098.5,268.7 1099.0,258.5 1099.5,248.0 1100.0,237.2 1100.5,226.3 1101.0,215.2 1101.5,204.0 1102.0,192.9 1102.5,181.9 1103.0,171.1 1103.5,160.5 1104.0,150.2 1104.5,140.3 1105.0,130.8 1105.5,121.8 1106.0,113.4 1106.5,105.6 1107.0,98.5 1107.5,92.0 1108.0,86.4 1108.5,81.5 1109.0,77.4 1109.5,74.2 1110.0,71.9 1110.5,70.5 1111.0,69.9 1111.5,70.3 1112.0,71.5 1112.5,73.6 1113.0,76.6 1113.5,80.5 1114.0,85.2 1114.5,90.7 1115.0,96.9 1115.5,103.9 1116.0,111.6 1116.5,119.9 1117.0,128.7 1117.5,138.1 1118.0,147.9 1118.5,158.1 1119.0,168.7 1119.5,179.5 1120.0,190.5 1120.5,201.6 1121.0,212.7 1121.5,223.8 1122.0,234.8 1122.5,245.6 1123.0,256.2 1123.5,266.5 1124.0,276.4 1124.5,285.8 1125.0,294.7 1125.5,303.1 1126.0,310.9 1126.5,317.9 1127.0,324.3 1127.5,329.9 1128.0,334.7 1128.5,338.7 1129.0,341.8 1129.5,344.1 1130.0,345.4 1130.5,345.9 1131.0,345.5 1131.5,344.1 1132.0,341.9 1132.5,338.8 1133.0,334.9 1133.5,330.1 1134.0,324.6 1134.5,318.2 1135.0,311.2 1135.5,303.5 1136.0,295.1 1136.5,286.2 1137.0,276.8 1137.5,266.9 1138.0,256.7 1138.5,246.1 1139.0,235.3 1139.5,224.3 1140.0,213.2 1140.5,202.0 1141.0,190.9 1141.5,179.9 1142.0,169.1 1142.5,158.6 1143.0,148.3 1143.5,138.5 1144.0,129.1 1144.5,120.2 1145.0,111.9 1145.5,104.2 1146.0,97.2 1146.5,90.9 1147.0,85.4 1147.5,80.7 1148.0,76.8 1148.5,73.7 1149.0,71.6 1149.5,70.3 1150.0,69.9 1150.5,70.4 1151.0,71.8 1151.5,74.1 1152.0,77.3 1152.5,81.4 1153.0,86.2 1153.5,91.9 1154.0,98.3 1154.5,105.4 1155.0,113.2 1155.5,121.6 1156.0,130.5 1156.5,140.0 1157.0,149.9 1157.5,160.2 1158.0,170.8 1158.5,181.7 1159.0,192.7 1159.5,203.8 1160.0,215.0 1160.5,226.1 1161.0,237.1 1161.5,247.8 1162.0,258.4 1162.5,268.6 1163.0,278.4 1163.5,287.7 1164.0,296.6 1164.5,304.8 1165.0,312.4 1165.5,319.3 1166.0,325.6 1166.5,331.0 1167.0,335.6 1167.5,339.4 1168.0,342.4 1168.5,344.4 1169.0,345.6 1169.5,345.9 1170.0,345.3 1170.5,343.7 1171.0,341.3 1171.5,338.1 1172.0,333.9 1172.5,329.0 1173.0,323.2 1173.5,316.7 1174.0,309.5 1174.5,301.7 1175.0,293.2 1175.5,284.2 1176.0,274.6 1176.5,264.6 1177.0,254.3 1177.5,243.7 1178.0,232.8 1178.5,221.7 1179.0,210.6 1179.5,199.5 1180.0,188.4 1180.5,177.4 1181.0,166.6 1181.5,156.2 1182.0,146.0 1182.5,136.2 1183.0,126.9 1183.5,118.2 1184.0,110.0 1184.5,102.5 1185.0,95.6 1185.5,89.5 1186.0,84.2 1186.5,79.7 1187.0,76.0 1187.5,73.1 1188.0,71.2 1188.5,70.1 1189.0,69.9 1189.5,70.7 1190.0,72.3 1190.5,74.8 1191.0,78.2 1191.5,82.5 1192.0,87.5 1192.5,93.4 1193.0,100.0 1193.5,107.3 1194.0,115.2 1194.5,123.8 1195.0,132.9 1195.5,142.5 1196.0,152.5 1196.5,162.9 1197.0,173.6 1197.5,184.5 1198.0,195.5 1198.5,206.7 1199.0,217.8 1199.5,228.9 1200.0,239.8 1200.5,250.6 1201.0,261.0 1201.5,271.2 1202.0,280.9 1202.5,290.1 1203.0,298.8 1203.5,306.9 1204.0,314.3 1204.5,321.0 1205.0,327.1 1205.5,332.3 1206.0,336.7 1206.5,340.3 1207.0,343.0 1207.5,344.8 1208.0,345.8 1208.5,345.8 1209.0,344.9 1209.5,343.2 1210.0,340.5 1210.5,337.0 1211.0,332.7 1211.5,327.5 1212.0,321.5 1212.5,314.8 1213.0,307.4 1213.5,299.4 1214.0,290.8 1214.5,281.6 1215.0,271.9 1215.5,261.8 1216.0,251.4 1216.5,240.7 1217.0,229.7 1217.5,218.7 1218.0,207.5 1218.5,196.4 1219.0,185.3 1219.5,174.4 1220.0,163.7 1220.5,153.2 1221.0,143.2 1221.5,133.5 1222.0,124.4 1222.5,115.8 1223.0,107.8 1223.5,100.4 1224.0,93.8 1224.5,87.9 1225.0,82.8 1225.5,78.5 1226.0,75.0 1226.5,72.5 1227.0,70.8 1227.5,70.0 1228.0,70.1 1228.5,71.1 1229.0,73.0 1229.5,75.8 1230.0,79.4 1230.5,83.9 1231.0,89.2 1231.5,95.2 1232.0,102.1 1232.5,109.6 1233.0,117.7 1233.5,126.4 1234.0,135.7 1234.5,145.4 1235.0,155.6 1235.5,166.1 1236.0,176.8 1236.5,187.8 1237.0,198.9 1237.5,210.1 1238.0,221.2 1238.5,232.3 1239.0,243.2 1239.5,253.8 1240.0,264.2 1240.5,274.2 1241.0,283.8 1241.5,292.8 1242.0,301.3 1242.5,309.2 1243.0,316.5 1243.5,323.0 1244.0,328.8 1244.5,333.8 1245.0,337.9 1245.5,341.2 1246.0,343.7 1246.5,345.2 1247.0,345.9 1247.5,345.6 1248.0,344.5 1248.5,342.4 1249.0,339.5 1249.5,335.7 1250.0,331.1 1250.5,325.7 1251.0,319.5 1251.5,312.5 1252.0,304.9 1252.5,296.7 1253.0,287.8 1253.5,278.5 1254.0,268.7 1254.5,258.5 1255.0,247.9 1255.5,237.1 1256.0,226.1 1256.5,215.0 1257.0,203.8 1257.5,192.7 1258.0,181.7 1258.5,170.8 1259.0,160.2 1259.5,149.9 1260.0,139.9 1260.5,130.4 1261.0,121.5 1261.5,113.0 1262.0,105.3 1262.5,98.1 1263.0,91.7 1263.5,86.1 1264.0,81.2 1264.5,77.2 1265.0,74.1 1265.5,71.8 1266.0,70.4 1266.5,69.9 1267.0,70.3 1267.5,71.6 1268.0,73.8 1268.5,76.9 1269.0,80.8 1269.5,85.6 1270.0,91.2 1270.5,97.5 1271.0,104.6 1271.5,112.3 1272.0,120.7 1272.5,129.6 1273.0,139.1 1273.5,149.0 1274.0,159.2 1274.5,169.8 1275.0,180.7 1275.5,191.7 1276.0,202.9 1276.5,214.0 1277.0,225.1 1277.5,236.2 1278.0,247.0 1278.5,257.6 1279.0,267.8 1279.5,277.7 1280.0,287.1 1280.5,295.9 1281.0,304.3 1281.5,311.9 1282.0,318.9 1282.5,325.2 1283.0,330.7 1283.5,335.4 1284.0,339.2 1284.5,342.2 1285.0,344.3 1285.5,345.6 1286.0,345.9 1286.5,345.3 1287.0,343.8 1287.5,341.5 1288.0,338.2 1288.5,334.1 1289.0,329.2 1289.5,323.5 1290.0,317.0 1290.5,309.8 1291.0,301.9 1291.5,293.4 1292.0,284.4 1292.5,274.9 1293.0,264.9 1293.5,254.5 1294.0,243.9 1294.5,233.0 1295.0,221.9 1295.5,210.8 1296.0,199.6 1296.5,188.5 1297.0,177.5 1297.5,166.7 1298.0,156.2 1298.5,146.0 1299.0,136.2 1299.5,126.9 1300.0,118.2 1300.5,110.0 1301.0,102.4 1301.5,95.6 1302.0,89.5 1302.5,84.1 1303.0,79.6 1303.5,75.9 1304.0,73.1 1304.5,71.1 1305.0,70.1 1305.5,70.0 1306.0,70.7 1306.5,72.4 1307.0,74.9 1307.5,78.4 1308.0,82.6 1308.5,87.7 1309.0,93.6 1309.5,100.2 1310.0,107.6 1310.5,115.6 1311.0,124.2 1311.5,133.3 1312.0,143.0 1312.5,153.0 1313.0,163.5 1313.5,174.2 1314.0,185.1 1314.5,196.2 1315.0,207.4 1315.5,218.5 1316.0,229.6 1316.5,240.6 1317.0,251.3 1317.5,261.8 1318.0,271.9 1318.5,281.6 1319.0,290.8 1319.5,299.4 1320.0,307.5 1320.5,314.9 1321.0,321.6 1321.5,327.5 1322.0,332.7 1322.5,337.1 1323.0,340.6 1323.5,343.2 1324.0,345.0 1324.5,345.8 1325.0,345.8 1325.5,344.8 1326.0,342.9 1326.5,340.2 1327.0,336.6 1327.5,332.1 1328.0,326.9 1328.5,320.8 1329.0,314.0 1329.5,306.5 1330.0,298.4 1330.5,289.7 1331.0,280.4 1331.5,270.7 1332.0,260.5 1332.5,250.0 1333.0,239.2 1333.5,228.3 1334.0,217.2 1334.5,206.0 1335.0,194.8 1335.5,183.7 1336.0,172.8 1336.5,162.1 1337.0,151.7 1337.5,141.7 1338.0,132.1 1338.5,123.1 1339.0,114.5 1339.5,106.6 1340.0,99.4 1340.5,92.8 1341.0,87.0 1341.5,82.0 1342.0,77.9 1342.5,74.6 1343.0,72.1 1343.5,70.6 1344.0,69.9 1344.5,70.2 1345.0,71.3 1345.5,73.4 1346.0,76.3 1346.5,80.2 1347.0,84.8 1347.5,90.3 1348.0,96.5 1348.5,103.4 1349.0,111.1 1349.5,119.4 1350.0,128.2 1350.5,137.6 1351.0,147.4 1351.5,157.7 1352.0,168.3 1352.5,179.1 1353.0,190.1 1353.5,201.2 1354.0,212.4 1354.5,223.6 1355.0,234.6 1355.5,245.5 1356.0,256.1 1356.5,266.4 1357.0,276.4 1357.5,285.8 1358.0,294.8 1358.5,303.2 1359.0,311.0 1359.5,318.1 1360.0,324.4 1360.5,330.0 1361.0,334.8 1361.5,338.8 1362.0,341.9 1362.5,344.1 1363.0,345.5 1363.5,345.9 1364.0,345.4 1364.5,344.0 1365.0,341.8 1365.5,338.6 1366.0,334.6 1366.5,329.8 1367.0,324.1 1367.5,317.7 1368.0,310.6 1368.5,302.8 1369.0,294.3 1369.5,285.3 1370.0,275.8 1370.5,265.9 1371.0,255.6 1371.5,244.9 1372.0,234.0 1372.5,223.0 1373.0,211.8 1373.5,200.6 1374.0,189.5 1374.5,178.5 1375.0,167.7 1375.5,157.1 1376.0,146.9 1376.5,137.0 1377.0,127.7 1377.5,118.9 1378.0,110.6 1378.5,103.0 1379.0,96.1 1379.5,89.9 1380.0,84.5 1380.5,79.9 1381.0,76.1 1381.5,73.2 1382.0,71.2 1382.5,70.1 1383.0,69.9 1383.5,70.6 1384.0,72.2 1384.5,74.7 1385.0,78.1 1385.5,82.3 1386.0,87.4 1386.5,93.2 1387.0,99.8 1387.5,107.1 1388.0,115.1 1388.5,123.7 1389.0,132.8 1389.5,142.5 1390.0,152.5 1390.5,162.9 1391.0,173.7 1391.5,184.6 1392.0,195.7 1392.5,206.9 1393.0,218.1 1393.5,229.2 1394.0,240.1 1394.5,250.9 1395.0,261.4 1395.5,271.5 1396.0,281.2 1396.5,290.5 1397.0,299.2 1397.5,307.2 1398.0,314.7 1398.5,321.4 1399.0,327.4 1399.5,332.6 1400.0,337.0 1400.5,340.5 1401.0,343.2 1401.5,344.9 1402.0,345.8 1402.5,345.8 1403.0,344.8"/>
<polyline fill="none" stroke="#ff0000" stroke-width="2.8" stroke-linejoin="round" points="137.5,123.0 138.0,132.6 138.5,142.8 139.0,153.5 139.5,164.6 140.0,176.1 140.5,187.7 141.0,199.5 141.5,211.4 142.0,223.3 142.5,235.0 143.0,246.5 143.5,257.8 144.0,268.6 144.5,279.1 145.0,289.0 145.5,298.3 146.0,306.9 146.5,314.8 147.0,321.9 147.5,328.2 148.0,333.5 148.5,338.0 149.0,341.5 149.5,343.9 150.0,345.4 150.5,345.9 151.0,345.4 151.5,344.1 152.0,342.0 152.5,339.0 153.0,335.3 153.5,330.7 154.0,325.4 154.5,319.4 155.0,312.7 155.5,305.4 156.0,297.5 156.5,289.0 157.0,280.0 157.5,270.6 158.0,260.8 158.5,250.7 159.0,240.3 159.5,229.7 160.0,219.0 160.5,208.2 161.0,197.4 161.5,186.7 162.0,176.1 162.5,165.7 163.0,155.5 163.5,145.7 164.0,136.3 164.5,127.3 165.0,118.8 165.5,110.8 166.0,103.4 166.5,96.7 167.0,90.6 167.5,85.3 168.0,80.7 168.5,76.9 169.0,73.9 169.5,71.8 170.0,70.4 170.5,69.9 171.0,70.2 171.5,71.4 172.0,73.4 172.5,76.3 173.0,79.9 173.5,84.4 174.0,89.6 174.5,95.5 175.0,102.1 175.5,109.3 176.0,117.2 176.5,125.6 177.0,134.5 177.5,143.9 178.0,153.6 178.5,163.7 179.0,174.1 179.5,184.6 180.0,195.3 180.5,206.1 181.0,216.9 181.5,227.7 182.0,238.3 182.5,248.7 183.0,258.9 183.5,268.8 184.0,278.3 184.5,287.3 185.0,295.9 185.5,304.0 186.0,311.4 186.5,318.2 187.0,324.4 187.5,329.8 188.0,334.5 188.5,338.4 189.0,341.5 189.5,343.8 190.0,345.3 190.5,345.9 191.0,345.6 191.5,344.6 192.0,342.7 192.5,339.9 193.0,336.4 193.5,332.1 194.0,327.0 194.5,321.1 195.0,314.6 195.5,307.5 196.0,299.7 196.5,291.3 197.0,282.5 197.5,273.2 198.0,263.5 198.5,253.4 199.0,243.1 199.5,232.5 200.0,221.8 200.5,211.1 201.0,200.3 201.5,189.5 202.0,178.9 202.5,168.4 203.0,158.2 203.5,148.3 204.0,138.7 204.5,129.6 205.0,120.9 205.5,112.8 206.0,105.3 206.5,98.4 207.0,92.1 207.5,86.6 208.0,81.8 208.5,77.8 209.0,74.6 209.5,72.2 210.0,70.7 210.5,70.0 211.0,70.1 211.5,71.0 212.0,72.9 212.5,75.5 213.0,78.9 213.5,83.2 214.0,88.2 214.5,93.9 215.0,100.4 215.5,107.5 216.0,115.2 216.5,123.4 217.0,132.2 217.5,141.5 218.0,151.2 218.5,161.2 219.0,171.5 219.5,182.0 220.0,192.7 220.5,203.5 221.0,214.3 221.5,225.1 222.0,235.7 222.5,246.2 223.0,256.5 223.5,266.4 224.0,276.0 224.5,285.2 225.0,293.9 225.5,302.1 226.0,309.7 226.5,316.7 227.0,323.0 227.5,328.6 228.0,333.5 228.5,337.6 229.0,340.9 229.5,343.3 230.0,345.0 230.5,345.8 231.0,345.8 231.5,344.9 232.0,343.2 232.5,340.6 233.0,337.3 233.5,333.1 234.0,328.2 234.5,322.5 235.0,316.2 235.5,309.1 236.0,301.5 236.5,293.3 237.0,284.5 237.5,275.3 238.0,265.7 238.5,255.7 239.0,245.4 239.5,234.9 240.0,224.2 240.5,213.5 241.0,202.6 241.5,191.9 242.0,181.2 242.5,170.7 243.0,160.4 243.5,150.4 244.0,140.8 244.5,131.5 245.0,122.8 245.5,114.5 246.0,106.9 246.5,99.8 247.0,93.4 247.5,87.7 248.0,82.8 248.5,78.6 249.0,75.2 249.5,72.7 250.0,70.9 250.5,70.0 251.0,70.0 251.5,70.8 252.0,72.4 252.5,74.9 253.0,78.2 253.5,82.2 254.0,87.1 254.5,92.7 255.0,99.0 255.5,105.9 256.0,113.5 256.5,121.7 257.0,130.4 257.5,139.6 258.0,149.2 258.5,159.1 259.0,169.4 259.5,179.9 260.0,190.6 260.5,201.3 261.0,212.1 261.5,222.9 262.0,233.6 262.5,244.2 263.0,254.5 263.5,264.5 264.0,274.2 264.5,283.4 265.0,292.3 265.5,300.5 266.0,308.3 266.5,315.4 267.0,321.8 267.5,327.6 268.0,332.6 268.5,336.8 269.0,340.3 269.5,342.9 270.0,344.7 270.5,345.7 271.0,345.8 271.5,345.1 272.0,343.6 272.5,341.2 273.0,338.0 273.5,333.9 274.0,329.2 274.5,323.6 275.0,317.4 275.5,310.5 276.0,302.9 276.5,294.8 277.0,286.1 277.5,277.0 278.0,267.4 278.5,257.5 279.0,247.3 279.5,236.8 280.0,226.1 280.5,215.4 281.0,204.6 281.5,193.8 282.0,183.1 282.5,172.5 283.0,162.2 283.5,152.1 284.0,142.4 284.5,133.1 285.0,124.2 285.5,115.9 286.0,108.1 286.5,101.0 287.0,94.5 287.5,88.7 288.0,83.6 288.5,79.3 289.0,75.8 289.5,73.0 290.0,71.2 290.5,70.1 291.0,69.9 291.5,70.6 292.0,72.1 292.5,74.4 293.0,77.6 293.5,81.5 294.0,86.3 294.5,91.7 295.0,97.9 295.5,104.8 296.0,112.3 296.5,120.4 297.0,129.0 297.5,138.1 298.0,147.7 298.5,157.6 299.0,167.8 299.5,178.2 300.0,188.9 300.5,199.7 301.0,210.5 301.5,221.3 302.0,232.0 302.5,242.6 303.0,252.9 303.5,263.0 304.0,272.7 304.5,282.1 305.0,291.0 305.5,299.3 306.0,307.2 306.5,314.4 307.0,320.9 307.5,326.8 308.0,331.9 308.5,336.3 309.0,339.8 309.5,342.6 310.0,344.5 310.5,345.6 311.0,345.9 311.5,345.3 312.0,343.8 312.5,341.6 313.0,338.5 313.5,334.6 314.0,329.9 314.5,324.4 315.0,318.3 315.5,311.5 316.0,304.0 316.5,295.9 317.0,287.4 317.5,278.3 318.0,268.7 318.5,258.9 319.0,248.7 319.5,238.2 320.0,227.6 320.5,216.8 321.0,206.0 321.5,195.2 322.0,184.4 322.5,173.9 323.0,163.5 323.5,153.4 324.0,143.6 324.5,134.2 325.0,125.3 325.5,116.9 326.0,109.1 326.5,101.8 327.0,95.2 327.5,89.3 328.0,84.2 328.5,79.8 329.0,76.1 329.5,73.3 330.0,71.3 330.5,70.2 331.0,69.9 331.5,70.5 332.0,71.9 332.5,74.1 333.0,77.2 333.5,81.0 334.0,85.7 334.5,91.1 335.0,97.2 335.5,104.0 336.0,111.4 336.5,119.4 337.0,128.0 337.5,137.1 338.0,146.6 338.5,156.4 339.0,166.6 339.5,177.1 340.0,187.7 340.5,198.5 341.0,209.3 341.5,220.1 342.0,230.8 342.5,241.4 343.0,251.8 343.5,261.9 344.0,271.7 344.5,281.1 345.0,290.1 345.5,298.5 346.0,306.4 346.5,313.7 347.0,320.3 347.5,326.2 348.0,331.4 348.5,335.9 349.0,339.5 349.5,342.4 350.0,344.4 350.5,345.6 351.0,345.9 351.5,345.4 352.0,344.0 352.5,341.8 353.0,338.8 353.5,335.0 354.0,330.3 354.5,325.0 355.0,318.9 355.5,312.1 356.0,304.7 356.5,296.7 357.0,288.2 357.5,279.1 358.0,269.6 358.5,259.8 359.0,249.6 359.5,239.1 360.0,228.5 360.5,217.7 361.0,206.9 361.5,196.1 362.0,185.3 362.5,174.7 363.0,164.3 363.5,154.2 364.0,144.4 364.5,135.0 365.0,126.0 365.5,117.6 366.0,109.7 366.5,102.4 367.0,95.7 367.5,89.8 368.0,84.5 368.5,80.1 369.0,76.4 369.5,73.5 370.0,71.5 370.5,70.3 371.0,69.9 371.5,70.4 372.0,71.7 372.5,73.9 373.0,76.9 373.5,80.7 374.0,85.3 374.5,90.6 375.0,96.7 375.5,103.5 376.0,110.9 376.5,118.9 377.0,127.4 377.5,136.4 378.0,145.9 378.5,155.8 379.0,166.0 379.5,176.4 380.0,187.0 380.5,197.8 381.0,208.6 381.5,219.4 382.0,230.2 382.5,240.8 383.0,251.2 383.5,261.3 384.0,271.2 384.5,280.6 385.0,289.6 385.5,298.0 386.0,305.9 386.5,313.3 387.0,319.9 387.5,325.9 388.0,331.1 388.5,335.6 389.0,339.3 389.5,342.2 390.0,344.3 390.5,345.5 391.0,345.9 391.5,345.4 392.0,344.1 392.5,341.9 393.0,339.0 393.5,335.2 394.0,330.6 394.5,325.3 395.0,319.2 395.5,312.5 396.0,305.1 396.5,297.1 397.0,288.6 397.5,279.5 398.0,270.0 398.5,260.2 399.0,250.0 399.5,239.6 400.0,228.9 400.5,218.2 401.0,207.4 401.5,196.5 402.0,185.8 402.5,175.2 403.0,164.7 403.5,154.6 404.0,144.8 404.5,135.3 405.0,126.4 405.5,117.9 406.0,109.9 406.5,102.6 407.0,95.9 407.5,90.0 408.0,84.7 408.5,80.2 409.0,76.5 409.5,73.6 410.0,71.5 410.5,70.3 411.0,69.9 411.5,70.4 412.0,71.7 412.5,73.8 413.0,76.8 413.5,80.6 414.0,85.2 414.5,90.5 415.0,96.6 415.5,103.3 416.0,110.7 416.5,118.7 417.0,127.2 417.5,136.2 418.0,145.7 418.5,155.6 419.0,165.7 419.5,176.2 420.0,186.8 420.5,197.6 421.0,208.4 421.5,219.2 422.0,230.0 422.5,240.6 423.0,251.0 423.5,261.2 424.0,271.0 424.5,280.4 425.0,289.4 425.5,297.9 426.0,305.8 426.5,313.2 427.0,319.8 427.5,325.8 428.0,331.1 428.5,335.6 429.0,339.3 429.5,342.2 430.0,344.3 430.5,345.5 431.0,345.9 431.5,345.4 432.0,344.1 432.5,342.0 433.0,339.0 433.5,335.2 434.0,330.6 434.5,325.3 435.0,319.2 435.5,312.5 436.0,305.1 436.5,297.1 437.0,288.6 437.5,279.5 438.0,270.0 438.5,260.2 439.0,250.0 439.5,239.5 440.0,228.9 440.5,218.1 441.0,207.3 441.5,196.5 442.0,185.7 442.5,175.1 443.0,164.7 443.5,154.5 444.0,144.7 444.5,135.3 445.0,126.3 445.5,117.8 446.0,109.9 446.5,102.6 447.0,95.9 447.5,89.9 448.0,84.6 448.5,80.2 449.0,76.5 449.5,73.6 450.0,71.5 450.5,70.3 451.0,69.9 451.5,70.4 452.0,71.7 452.5,73.9 453.0,76.9 453.5,80.7 454.0,85.3 454.5,90.6 455.0,96.7 455.5,103.4 456.0,110.8 456.5,118.8 457.0,127.4 457.5,136.4 458.0,145.9 458.5,155.8 459.0,166.0 459.5,176.4 460.0,187.1 460.5,197.9 461.0,208.7 461.5,219.5 462.0,230.3 462.5,240.9 463.0,251.3 463.5,261.5 464.0,271.3 464.5,280.7 465.0,289.7 465.5,298.2 466.0,306.1 466.5,313.4 467.0,320.1 467.5,326.0 468.0,331.3 468.5,335.7 469.0,339.4 469.5,342.3 470.0,344.3 470.5,345.5 471.0,345.9 471.5,345.4 472.0,344.0 472.5,341.9 473.0,338.8 473.5,335.0 474.0,330.4 474.5,325.0 475.0,318.9 475.5,312.2 476.0,304.7 476.5,296.7 477.0,288.2 477.5,279.1 478.0,269.6 478.5,259.7 479.0,249.5 479.5,239.0 480.0,228.4 480.5,217.6 481.0,206.8 481.5,195.9 482.0,185.2 482.5,174.6 483.0,164.1 483.5,154.0 484.0,144.2 484.5,134.8 485.0,125.8 485.5,117.4 486.0,109.5 486.5,102.2 487.0,95.5 487.5,89.6 488.0,84.4 488.5,79.9 489.0,76.3 489.5,73.4 490.0,71.4 490.5,70.2 491.0,69.9 491.5,70.4 492.0,71.8 492.5,74.0 493.0,77.1 493.5,80.9 494.0,85.6 494.5,91.0 495.0,97.1 495.5,103.9 496.0,111.4 496.5,119.4 497.0,128.0 497.5,137.1 498.0,146.6 498.5,156.5 499.0,166.7 499.5,177.2 500.0,187.8 500.5,198.6 501.0,209.5 501.5,220.3 502.0,231.1 502.5,241.7 503.0,252.1 503.5,262.2 504.0,272.0 504.5,281.4 505.0,290.4 505.5,298.8 506.0,306.7 506.5,313.9 507.0,320.6 507.5,326.5 508.0,331.7 508.5,336.1 509.0,339.7 509.5,342.5 510.0,344.5 510.5,345.6 511.0,345.9 511.5,345.3 512.0,343.9 512.5,341.6 513.0,338.5 513.5,334.6 514.0,330.0 514.5,324.5 515.0,318.4 515.5,311.5 516.0,304.1 516.5,296.0 517.0,287.4 517.5,278.3 518.0,268.7 518.5,258.8 519.0,248.6 519.5,238.1 520.0,227.4 520.5,216.6 521.0,205.7 521.5,194.9 522.0,184.2 522.5,173.5 523.0,163.2 523.5,153.0 524.0,143.3 524.5,133.9 525.0,125.0 525.5,116.5 526.0,108.7 526.5,101.5 527.0,94.9 527.5,89.0 528.0,83.9 528.5,79.5 529.0,75.9 529.5,73.2 530.0,71.2 530.5,70.2 531.0,69.9 531.5,70.5 532.0,72.0 532.5,74.3 533.0,77.5 533.5,81.4 534.0,86.1 534.5,91.6 535.0,97.8 535.5,104.7 536.0,112.2 536.5,120.3 537.0,129.0 537.5,138.1 538.0,147.7 538.5,157.6 539.0,167.9 539.5,178.4 540.0,189.1 540.5,199.9 541.0,210.7 541.5,221.6 542.0,232.3 542.5,242.9 543.0,253.3 543.5,263.4 544.0,273.2 544.5,282.5 545.0,291.4 545.5,299.8 546.0,307.6 546.5,314.8 547.0,321.3 547.5,327.2 548.0,332.2 548.5,336.6 549.0,340.1 549.5,342.8 550.0,344.7 550.5,345.7 551.0,345.9 551.5,345.2 552.0,343.6 552.5,341.3 553.0,338.1 553.5,334.1 554.0,329.3 554.5,323.8 555.0,317.5 555.5,310.6 556.0,303.0 556.5,294.9 557.0,286.2 557.5,277.0 558.0,267.4 558.5,257.4 559.0,247.1 559.5,236.6 560.0,225.9 560.5,215.1 561.0,204.2 561.5,193.4 562.0,182.7 562.5,172.1 563.0,161.7 563.5,151.6 564.0,141.9 564.5,132.6 565.0,123.7 565.5,115.4 566.0,107.6 566.5,100.5 567.0,94.0 567.5,88.2 568.0,83.2 568.5,78.9 569.0,75.5 569.5,72.8 570.0,71.0 570.5,70.1 571.0,70.0 571.5,70.7 572.0,72.3 572.5,74.8 573.0,78.0 573.5,82.1 574.0,86.9 574.5,92.5 575.0,98.8 575.5,105.8 576.0,113.5 576.5,121.7 577.0,130.4 577.5,139.6 578.0,149.3 578.5,159.3 579.0,169.6 579.5,180.1 580.0,190.8 580.5,201.7 581.0,212.5 581.5,223.3 582.0,234.1 582.5,244.7 583.0,255.0 583.5,265.1 584.0,274.8 584.5,284.0 585.0,292.9 585.5,301.1 586.0,308.9 586.5,315.9 587.0,322.4 587.5,328.1 588.0,333.0 588.5,337.2 589.0,340.6 589.5,343.2 590.0,344.9 590.5,345.8 591.0,345.8 591.5,345.0 592.0,343.3 592.5,340.8 593.0,337.4 593.5,333.3 594.0,328.4 594.5,322.7 595.0,316.3 595.5,309.3 596.0,301.6 596.5,293.3 597.0,284.5 597.5,275.3 598.0,265.6 598.5,255.6 599.0,245.2 599.5,234.7 600.0,223.9 600.5,213.1 601.0,202.2 601.5,191.4 602.0,180.7 602.5,170.1 603.0,159.8 603.5,149.8 604.0,140.1 604.5,130.9 605.0,122.1 605.5,113.8 606.0,106.2 606.5,99.2 607.0,92.8 607.5,87.2 608.0,82.3 608.5,78.2 609.0,74.9 609.5,72.4 610.0,70.8 610.5,70.0 611.0,70.0 611.5,71.0 612.0,72.7 612.5,75.3 613.0,78.8 613.5,83.0 614.0,88.0 614.5,93.7 615.0,100.2 615.5,107.3 616.0,115.1 616.5,123.4 617.0,132.2 617.5,141.5 618.0,151.3 618.5,161.4 619.0,171.7 619.5,182.3 620.0,193.1 620.5,203.9 621.0,214.8 621.5,225.6 622.0,236.3 622.5,246.8 623.0,257.1 623.5,267.1 624.0,276.8 624.5,286.0 625.0,294.7 625.5,302.8 626.0,310.4 626.5,317.4 627.0,323.6 627.5,329.2 628.0,334.0 628.5,338.0 629.0,341.2 629.5,343.6 630.0,345.2 630.5,345.9 631.0,345.7 631.5,344.7 632.0,342.8 632.5,340.1 633.0,336.6 633.5,332.3 634.0,327.2 634.5,321.3 635.0,314.8 635.5,307.6 636.0,299.8 636.5,291.4 637.0,282.5 637.5,273.1 638.0,263.3 638.5,253.2 639.0,242.8 639.5,232.2 640.0,221.4 640.5,210.6 641.0,199.7 641.5,188.9 642.0,178.2 642.5,167.7 643.0,157.4 643.5,147.5 644.0,137.9 644.5,128.8 645.0,120.1 645.5,112.0 646.0,104.5 646.5,97.6 647.0,91.4 647.5,86.0 648.0,81.3 648.5,77.3 649.0,74.2 649.5,71.9 650.0,70.5 650.5,69.9 651.0,70.2 651.5,71.3 652.0,73.3 652.5,76.1 653.0,79.7 653.5,84.1 654.0,89.3 654.5,95.3 655.0,101.9 655.5,109.2 656.0,117.1 656.5,125.5 657.0,134.5 657.5,143.9 658.0,153.8 658.5,163.9 659.0,174.4 659.5,185.0 660.0,195.8 660.5,206.6 661.0,217.5 661.5,228.3 662.0,239.0 662.5,249.5 663.0,259.7 663.5,269.6 664.0,279.2 664.5,288.2 665.0,296.8 665.5,304.9 666.0,312.3 666.5,319.1 667.0,325.2 667.5,330.5 668.0,335.1 668.5,338.9 669.0,341.9 669.5,344.1 670.0,345.4 670.5,345.9 671.0,345.5 671.5,344.3 672.0,342.2 672.5,339.3 673.0,335.5 673.5,331.0 674.0,325.7 674.5,319.7 675.0,312.9 675.5,305.6 676.0,297.6 676.5,289.0 677.0,280.0 677.5,270.5 678.0,260.6 678.5,250.4 679.0,239.9 679.5,229.3 680.0,218.5 680.5,207.6 681.0,196.7 681.5,185.9 682.0,175.3 682.5,164.8 683.0,154.6 683.5,144.8 684.0,135.3 684.5,126.3 685.0,117.8 685.5,109.8 686.0,102.5 686.5,95.8 687.0,89.8 687.5,84.5 688.0,80.1 688.5,76.4 689.0,73.5 689.5,71.4 690.0,70.2 690.5,69.9 691.0,70.4 691.5,71.8 692.0,74.0 692.5,77.1 693.0,80.9 693.5,85.6 694.0,91.0 694.5,97.1 695.0,103.9 695.5,111.4 696.0,119.5 696.5,128.1 697.0,137.2 697.5,146.8 698.0,156.7 698.5,167.0 699.0,177.5 699.5,188.2 700.0,199.0 700.5,209.9 701.0,220.7 701.5,231.5 702.0,242.2 702.5,252.6 703.0,262.7 703.5,272.5 704.0,281.9 704.5,290.9 705.0,299.3 705.5,307.2 706.0,314.4 706.5,321.0 707.0,326.9 707.5,332.0 708.0,336.4 708.5,340.0 709.0,342.7 709.5,344.6 710.0,345.7 710.5,345.9 711.0,345.2 711.5,343.7 712.0,341.4 712.5,338.2 713.0,334.2 713.5,329.4 714.0,323.9 714.5,317.6 715.0,310.7 715.5,303.1 716.0,294.9 716.5,286.2 717.0,277.0 717.5,267.4 718.0,257.4 718.5,247.1 719.0,236.6 719.5,225.8 720.0,215.0 720.5,204.1 721.0,193.3 721.5,182.5 722.0,171.9 722.5,161.5 723.0,151.4 723.5,141.7 724.0,132.3 724.5,123.5 725.0,115.1 725.5,107.4 726.0,100.2 726.5,93.8 727.0,88.0 727.5,83.0 728.0,78.8 728.5,75.3 729.0,72.7 729.5,71.0 730.0,70.0 730.5,70.0 731.0,70.8 731.5,72.4 732.0,74.9 732.5,78.3 733.0,82.4 733.5,87.3 734.0,93.0 734.5,99.3 735.0,106.4 735.5,114.1 736.0,122.3 736.5,131.1 737.0,140.4 737.5,150.1 738.0,160.2 738.5,170.5 739.0,181.1 739.5,191.9 740.0,202.7 740.5,213.6 741.0,224.5 741.5,235.2 742.0,245.8 742.5,256.1 743.0,266.2 743.5,275.8 744.0,285.1 744.5,293.9 745.0,302.1 745.5,309.8 746.0,316.8 746.5,323.1 747.0,328.8 747.5,333.6 748.0,337.7 748.5,341.0 749.0,343.5 749.5,345.1 750.0,345.8 750.5,345.7 751.0,344.8 751.5,343.0 752.0,340.3 752.5,336.8 753.0,332.6 753.5,327.5 754.0,321.7 754.5,315.2 755.0,308.0 755.5,300.2 756.0,291.9 756.5,283.0 757.0,273.6 757.5,263.8 758.0,253.7 758.5,243.3 759.0,232.7 759.5,221.9 760.0,211.0 760.5,200.1 761.0,189.3 761.5,178.6 762.0,168.0 762.5,157.7 763.0,147.8 763.5,138.2 764.0,129.0 764.5,120.3 765.0,112.2 765.5,104.6 766.0,97.7 766.5,91.5 767.0,86.0 767.5,81.3 768.0,77.4 768.5,74.2 769.0,72.0 769.5,70.5 770.0,69.9 770.5,70.2 771.0,71.3 771.5,73.3 772.0,76.1 772.5,79.7 773.0,84.2 773.5,89.4 774.0,95.3 774.5,102.0 775.0,109.3 775.5,117.2 776.0,125.7 776.5,134.7 777.0,144.1 777.5,154.0 778.0,164.1 778.5,174.6 779.0,185.3 779.5,196.1 780.0,206.9 780.5,217.8 781.0,228.7 781.5,239.4 782.0,249.9 782.5,260.1 783.0,270.0 783.5,279.5 784.0,288.6 784.5,297.2 785.0,305.2 785.5,312.6 786.0,319.4 786.5,325.5 787.0,330.8 787.5,335.4 788.0,339.1 788.5,342.1 789.0,344.2 789.5,345.5 790.0,345.9 790.5,345.5 791.0,344.2 791.5,342.0 792.0,339.0 792.5,335.2 793.0,330.6 793.5,325.3 794.0,319.2 794.5,312.4 795.0,304.9 795.5,296.9 796.0,288.3 796.5,279.2 797.0,269.7 797.5,259.7 798.0,249.5 798.5,239.0 799.0,228.3 799.5,217.4 800.0,206.6 800.5,195.7 801.0,184.9 801.5,174.2 802.0,163.8 802.5,153.6 803.0,143.7 803.5,134.3 804.0,125.3 804.5,116.9 805.0,109.0 805.5,101.7 806.0,95.1 806.5,89.1 807.0,84.0 807.5,79.6 808.0,76.0 808.5,73.2 809.0,71.2 809.5,70.2 810.0,69.9 810.5,70.6 811.0,72.0 811.5,74.4 812.0,77.5 812.5,81.5 813.0,86.3 813.5,91.8 814.0,98.1 814.5,105.0 815.0,112.6 815.5,120.7 816.0,129.5 816.5,138.7 817.0,148.3 817.5,158.3 818.0,168.6 818.5,179.2 819.0,189.9 819.5,200.8 820.0,211.7 820.5,222.5 821.0,233.3 821.5,243.9 822.0,254.3 822.5,264.5 823.0,274.2 823.5,283.6 824.0,292.4 824.5,300.8 825.0,308.5 825.5,315.7 826.0,322.1 826.5,327.9 827.0,332.9 827.5,337.1 828.0,340.5 828.5,343.1 829.0,344.9 829.5,345.8 830.0,345.8 830.5,345.0 831.0,343.3 831.5,340.8 832.0,337.4 832.5,333.3 833.0,328.3 833.5,322.6 834.0,316.2 834.5,309.1 835.0,301.4 835.5,293.1 836.0,284.3 836.5,274.9 837.0,265.2 837.5,255.1 838.0,244.7 838.5,234.1 839.0,223.4 839.5,212.5 840.0,201.6 840.5,190.7 841.0,180.0 841.5,169.4 842.0,159.1 842.5,149.0 843.0,139.3 843.5,130.1 844.0,121.4 844.5,113.1 845.0,105.5 845.5,98.5 846.0,92.2 846.5,86.6 847.0,81.8 847.5,77.8 848.0,74.6 848.5,72.2 849.0,70.6 849.5,69.9 850.0,70.1 850.5,71.1 851.0,73.0 851.5,75.8 852.0,79.3 852.5,83.7 853.0,88.8 853.5,94.7 854.0,101.3 854.5,108.5 855.0,116.4 855.5,124.8 856.0,133.8 856.5,143.2 857.0,153.0 857.5,163.2 858.0,173.6 858.5,184.3 859.0,195.1 859.5,206.0 860.0,216.9 860.5,227.7 861.0,238.4 861.5,249.0 862.0,259.3 862.5,269.2 863.0,278.8 863.5,287.9 864.0,296.5 864.5,304.6 865.0,312.1 865.5,318.9 866.0,325.0 866.5,330.4 867.0,335.1 867.5,338.9 868.0,341.9 868.5,344.1 869.0,345.4 869.5,345.9 870.0,345.5 870.5,344.3 871.0,342.2 871.5,339.2 872.0,335.5 872.5,330.9 873.0,325.6 873.5,319.5 874.0,312.8 874.5,305.4 875.0,297.3 875.5,288.8 876.0,279.7 876.5,270.2 877.0,260.2 877.5,250.0 878.0,239.5 878.5,228.8 879.0,217.9 879.5,207.0 880.0,196.1 880.5,185.3 881.0,174.6 881.5,164.2 882.0,154.0 882.5,144.1 883.0,134.6 883.5,125.6 884.0,117.1 884.5,109.2 885.0,101.9 885.5,95.2 886.0,89.3 886.5,84.1 887.0,79.7 887.5,76.0 888.0,73.2 888.5,71.3 889.0,70.2 889.5,69.9 890.0,70.5 890.5,72.0 891.0,74.3 891.5,77.5 892.0,81.5 892.5,86.2 893.0,91.7 893.5,98.0 894.0,104.9 894.5,112.5 895.0,120.7 895.5,129.4 896.0,138.6 896.5,148.2 897.0,158.3 897.5,168.6 898.0,179.2 898.5,189.9 899.0,200.8 899.5,211.7 900.0,222.6 900.5,233.4 901.0,244.0 901.5,254.4 902.0,264.5 902.5,274.3 903.0,283.6 903.5,292.5 904.0,300.9 904.5,308.6 905.0,315.8 905.5,322.2 906.0,328.0 906.5,333.0 907.0,337.2 907.5,340.6 908.0,343.2 908.5,344.9 909.0,345.8 909.5,345.8 910.0,344.9 910.5,343.2 911.0,340.7 911.5,337.3 912.0,333.1 912.5,328.1 913.0,322.4 913.5,316.0 914.0,308.9 914.5,301.1 915.0,292.8 915.5,283.9 916.0,274.6 916.5,264.8 917.0,254.7 917.5,244.3 918.0,233.7 918.5,222.9 919.0,212.0 919.5,201.1 920.0,190.2 920.5,179.4 921.0,168.9 921.5,158.5 922.0,148.5 922.5,138.8 923.0,129.6 923.5,120.9 924.0,112.7 924.5,105.1 925.0,98.1 925.5,91.9 926.0,86.3 926.5,81.5 927.0,77.6 927.5,74.4 928.0,72.0 928.5,70.6 929.0,69.9 929.5,70.2 930.0,71.3 930.5,73.2 931.0,76.0 931.5,79.6 932.0,84.0 932.5,89.2 933.0,95.2 933.5,101.8 934.0,109.1 934.5,117.0 935.0,125.5 935.5,134.5 936.0,144.0 936.5,153.9 937.0,164.1 937.5,174.6 938.0,185.2 938.5,196.1 939.0,207.0 939.5,217.9 940.0,228.7 940.5,239.5 941.0,250.0 941.5,260.2 942.0,270.2 942.5,279.7 943.0,288.8 943.5,297.4 944.0,305.4 944.5,312.8 945.0,319.6 945.5,325.6 946.0,331.0 946.5,335.5 947.0,339.3 947.5,342.2 948.0,344.3 948.5,345.5 949.0,345.9 949.5,345.4 950.0,344.1 950.5,341.9 951.0,338.8 951.5,335.0 952.0,330.3 952.5,324.9 953.0,318.7 953.5,311.9 954.0,304.4 954.5,296.3 955.0,287.6 955.5,278.5 956.0,268.9 956.5,258.9 957.0,248.6 957.5,238.0 958.0,227.3 958.5,216.4 959.0,205.5 959.5,194.6 960.0,183.8 960.5,173.1 961.0,162.7 961.5,152.5 962.0,142.7 962.5,133.3 963.0,124.3 963.5,115.9 964.0,108.1 964.5,100.9 965.0,94.3 965.5,88.5 966.0,83.4 966.5,79.1 967.0,75.6 967.5,72.9 968.0,71.0 968.5,70.1 969.0,70.0 969.5,70.7 970.0,72.3 970.5,74.8 971.0,78.1 971.5,82.2 972.0,87.1 972.5,92.7 973.0,99.1 973.5,106.2 974.0,113.9 974.5,122.1 975.0,131.0 975.5,140.3 976.0,150.0 976.5,160.1 977.0,170.5 977.5,181.1 978.0,191.9 978.5,202.8 979.0,213.7 979.5,224.6 980.0,235.4 980.5,246.0 981.0,256.3 981.5,266.4 982.0,276.1 982.5,285.4 983.0,294.2 983.5,302.4 984.0,310.1 984.5,317.1 985.0,323.4 985.5,329.0 986.0,333.9 986.5,337.9 987.0,341.2 987.5,343.6 988.0,345.2 988.5,345.9 989.0,345.7 989.5,344.7 990.0,342.8 990.5,340.1 991.0,336.5 991.5,332.1 992.0,327.0 992.5,321.1 993.0,314.5 993.5,307.2 994.0,299.3 994.5,290.9 995.0,281.9 995.5,272.4 996.0,262.6 996.5,252.4 997.0,241.9 997.5,231.2 998.0,220.4 998.5,209.5 999.0,198.6 999.5,187.7 1000.0,177.0 1000.5,166.4 1001.0,156.2 1001.5,146.2 1002.0,136.6 1002.5,127.5 1003.0,118.9 1003.5,110.8 1004.0,103.4 1004.5,96.6 1005.0,90.5 1005.5,85.1 1006.0,80.5 1006.5,76.7 1007.0,73.7 1007.5,71.6 1008.0,70.3 1008.5,69.9 1009.0,70.3 1009.5,71.7 1010.0,73.8 1010.5,76.8 1011.0,80.7 1011.5,85.3 1012.0,90.7 1012.5,96.8 1013.0,103.6 1013.5,111.1 1014.0,119.2 1014.5,127.9 1015.0,137.0 1015.5,146.6 1016.0,156.6 1016.5,166.9 1017.0,177.4 1017.5,188.2 1018.0,199.0 1018.5,210.0 1019.0,220.9 1019.5,231.7 1020.0,242.4 1020.5,252.9 1021.0,263.0 1021.5,272.9 1022.0,282.3 1022.5,291.3 1023.0,299.7 1023.5,307.6 1024.0,314.8 1024.5,321.4 1025.0,327.2 1025.5,332.4 1026.0,336.7 1026.5,340.2 1027.0,342.9 1027.5,344.7 1028.0,345.7 1028.5,345.8 1029.0,345.1 1029.5,343.5 1030.0,341.0 1030.5,337.7 1031.0,333.6 1031.5,328.7 1032.0,323.1 1032.5,316.7 1033.0,309.7 1033.5,302.0 1034.0,293.7 1034.5,284.8 1035.0,275.5 1035.5,265.8 1036.0,255.7 1036.5,245.3 1037.0,234.7 1037.5,223.9 1038.0,213.0 1038.5,202.1 1039.0,191.2 1039.5,180.4 1040.0,169.7 1040.5,159.4 1041.0,149.3 1041.5,139.6 1042.0,130.3 1042.5,121.5 1043.0,113.3 1043.5,105.6 1044.0,98.6 1044.5,92.3 1045.0,86.7 1045.5,81.8 1046.0,77.8 1046.5,74.6 1047.0,72.2 1047.5,70.6 1048.0,69.9 1048.5,70.1 1049.0,71.2 1049.5,73.1 1050.0,75.8 1050.5,79.4 1051.0,83.8 1051.5,89.0 1052.0,94.9 1052.5,101.5 1053.0,108.8 1053.5,116.7 1054.0,125.2 1054.5,134.2 1055.0,143.7 1055.5,153.6 1056.0,163.8 1056.5,174.3 1057.0,185.0 1057.5,195.8 1058.0,206.7 1058.5,217.7 1059.0,228.5 1059.5,239.3 1060.0,249.8 1060.5,260.1 1061.0,270.0 1061.5,279.6 1062.0,288.7 1062.5,297.3 1063.0,305.4 1063.5,312.8 1064.0,319.6 1064.5,325.6 1065.0,331.0 1065.5,335.5 1066.0,339.3 1066.5,342.2 1067.0,344.3 1067.5,345.5 1068.0,345.9 1068.5,345.4 1069.0,344.0 1069.5,341.8 1070.0,338.8 1070.5,334.9 1071.0,330.2 1071.5,324.8 1072.0,318.6 1072.5,311.7 1073.0,304.2 1073.5,296.0 1074.0,287.3 1074.5,278.2 1075.0,268.5 1075.5,258.5 1076.0,248.2 1076.5,237.6 1077.0,226.9 1077.5,216.0 1078.0,205.0 1078.5,194.1 1079.0,183.3 1079.5,172.6 1080.0,162.2 1080.5,152.0 1081.0,142.2 1081.5,132.8 1082.0,123.8 1082.5,115.4 1083.0,107.6 1083.5,100.4 1084.0,93.9 1084.5,88.1 1085.0,83.0 1085.5,78.8 1086.0,75.3 1086.5,72.7 1087.0,70.9 1087.5,70.0 1088.0,70.0 1088.5,70.8 1089.0,72.5 1089.5,75.0 1090.0,78.4 1090.5,82.6 1091.0,87.6 1091.5,93.3 1092.0,99.7 1092.5,106.9 1093.0,114.6 1093.5,123.0 1094.0,131.9 1094.5,141.2 1095.0,151.0 1095.5,161.2 1096.0,171.6 1096.5,182.2 1097.0,193.1 1097.5,204.0 1098.0,214.9 1098.5,225.8 1099.0,236.6 1099.5,247.2 1100.0,257.6 1100.5,267.6 1101.0,277.3 1101.5,286.5 1102.0,295.2 1102.5,303.4 1103.0,311.0 1103.5,318.0 1104.0,324.2 1104.5,329.7 1105.0,334.5 1105.5,338.4 1106.0,341.6 1106.5,343.9 1107.0,345.3 1107.5,345.9 1108.0,345.6 1108.5,344.4 1109.0,342.4 1109.5,339.6 1110.0,335.9 1110.5,331.4 1111.0,326.1 1111.5,320.1 1112.0,313.4 1112.5,306.0 1113.0,298.0 1113.5,289.4 1114.0,280.3 1114.5,270.8 1115.0,260.9 1115.5,250.6 1116.0,240.1 1116.5,229.3 1117.0,218.5 1117.5,207.5 1118.0,196.6 1118.5,185.7 1119.0,175.0 1119.5,164.5 1120.0,154.2 1120.5,144.3 1121.0,134.8 1121.5,125.8 1122.0,117.3 1122.5,109.3 1123.0,102.0 1123.5,95.3 1124.0,89.3 1124.5,84.1 1125.0,79.7 1125.5,76.0 1126.0,73.2 1126.5,71.3 1127.0,70.2 1127.5,69.9 1128.0,70.6 1128.5,72.1 1129.0,74.4 1129.5,77.6 1130.0,81.6 1130.5,86.4 1131.0,92.0 1131.5,98.3 1132.0,105.3 1132.5,112.9 1133.0,121.2 1133.5,130.0 1134.0,139.2 1134.5,148.9 1135.0,159.0 1135.5,169.4 1136.0,180.0 1136.5,190.8 1137.0,201.7 1137.5,212.7 1138.0,223.6 1138.5,234.4 1139.0,245.1 1139.5,255.5 1140.0,265.6 1140.5,275.4 1141.0,284.7 1141.5,293.5 1142.0,301.8 1142.5,309.6 1143.0,316.6 1143.5,323.0 1144.0,328.7 1144.5,333.6 1145.0,337.7 1145.5,341.0 1146.0,343.5 1146.5,345.1 1147.0,345.8 1147.5,345.7 1148.0,344.7 1148.5,342.9 1149.0,340.2 1149.5,336.6 1150.0,332.3 1150.5,327.2 1151.0,321.3 1151.5,314.7 1152.0,307.4 1152.5,299.5 1153.0,291.1 1153.5,282.1 1154.0,272.6 1154.5,262.7 1155.0,252.5 1155.5,242.0 1156.0,231.3 1156.5,220.5 1157.0,209.5 1157.5,198.6 1158.0,187.7 1158.5,176.9 1159.0,166.4 1159.5,156.1 1160.0,146.1 1160.5,136.5 1161.0,127.4 1161.5,118.7 1162.0,110.7 1162.5,103.2 1163.0,96.4 1163.5,90.3 1164.0,85.0 1164.5,80.4 1165.0,76.6 1165.5,73.6 1166.0,71.5 1166.5,70.3 1167.0,69.9 1167.5,70.4 1168.0,71.7 1168.5,74.0 1169.0,77.0 1169.5,80.9 1170.0,85.6 1170.5,91.0 1171.0,97.2 1171.5,104.1 1172.0,111.6 1172.5,119.8 1173.0,128.5 1173.5,137.7 1174.0,147.3 1174.5,157.3 1175.0,167.7 1175.5,178.3 1176.0,189.1 1176.5,200.0 1177.0,210.9 1177.5,221.9 1178.0,232.7 1178.5,243.4 1179.0,253.9 1179.5,264.0 1180.0,273.9 1180.5,283.3 1181.0,292.2 1181.5,300.6 1182.0,308.4 1182.5,315.6 1183.0,322.1 1183.5,327.9 1184.0,332.9 1184.5,337.2 1185.0,340.6 1185.5,343.2 1186.0,344.9 1186.5,345.8 1187.0,345.8 1187.5,344.9 1188.0,343.2 1188.5,340.6 1189.0,337.2 1189.5,333.0 1190.0,328.0 1190.5,322.2 1191.0,315.7 1191.5,308.5 1192.0,300.7 1192.5,292.3 1193.0,283.4 1193.5,274.0 1194.0,264.2 1194.5,254.0 1195.0,243.5 1195.5,232.8 1196.0,222.0 1196.5,211.0 1197.0,200.1 1197.5,189.2 1198.0,178.4 1198.5,167.8 1199.0,157.4 1199.5,147.4 1200.0,137.8 1200.5,128.6 1201.0,119.8 1201.5,111.7 1202.0,104.1 1202.5,97.3 1203.0,91.1 1203.5,85.6 1204.0,80.9 1204.5,77.0 1205.0,74.0 1205.5,71.8 1206.0,70.4 1206.5,69.9 1207.0,70.3 1207.5,71.5 1208.0,73.6 1208.5,76.6 1209.0,80.4 1209.5,85.0 1210.0,90.3 1210.5,96.4 1211.0,103.2 1211.5,110.7 1212.0,118.8 1212.5,127.4 1213.0,136.6 1213.5,146.2 1214.0,156.1 1214.5,166.5 1215.0,177.0 1215.5,187.8 1216.0,198.7 1216.5,209.7 1217.0,220.6 1217.5,231.5 1218.0,242.2 1218.5,252.7 1219.0,262.9 1219.5,272.8 1220.0,282.2 1220.5,291.2 1221.0,299.7 1221.5,307.6 1222.0,314.8 1222.5,321.4 1223.0,327.3 1223.5,332.4 1224.0,336.7 1224.5,340.3 1225.0,342.9 1225.5,344.8 1226.0,345.7 1226.5,345.8 1227.0,345.1 1227.5,343.4 1228.0,340.9 1228.5,337.6 1229.0,333.4 1229.5,328.5 1230.0,322.8 1230.5,316.4 1231.0,309.2 1231.5,301.5 1232.0,293.2 1232.5,284.3 1233.0,274.9 1233.5,265.1 1234.0,255.0 1234.5,244.5 1235.0,233.8 1235.5,223.0 1236.0,212.1 1236.5,201.1 1237.0,190.2 1237.5,179.4 1238.0,168.7 1238.5,158.4 1239.0,148.3 1239.5,138.6 1240.0,129.4 1240.5,120.6 1241.0,112.4 1241.5,104.8 1242.0,97.8 1242.5,91.6 1243.0,86.0 1243.5,81.3 1244.0,77.3 1244.5,74.2 1245.0,71.9 1245.5,70.5 1246.0,69.9 1246.5,70.2 1247.0,71.4 1247.5,73.4 1248.0,76.3 1248.5,80.0 1249.0,84.6 1249.5,89.9 1250.0,95.9 1250.5,102.7 1251.0,110.1 1251.5,118.1 1252.0,126.7 1252.5,135.9 1253.0,145.4 1253.5,155.4 1254.0,165.7 1254.5,176.3 1255.0,187.0 1255.5,197.9 1256.0,208.9 1256.5,219.8 1257.0,230.7 1257.5,241.5 1258.0,252.0 1258.5,262.2 1259.0,272.1 1259.5,281.6 1260.0,290.7 1260.5,299.2 1261.0,307.1 1261.5,314.4 1262.0,321.0 1262.5,327.0 1263.0,332.1 1263.5,336.5 1264.0,340.1 1264.5,342.8 1265.0,344.7 1265.5,345.7 1266.0,345.9 1266.5,345.1 1267.0,343.5 1267.5,341.1 1268.0,337.8 1268.5,333.7 1269.0,328.8 1269.5,323.1 1270.0,316.7 1270.5,309.6 1271.0,301.9 1271.5,293.6 1272.0,284.7 1272.5,275.4 1273.0,265.6 1273.5,255.5 1274.0,245.0 1274.5,234.4 1275.0,223.5 1275.5,212.6 1276.0,201.6 1276.5,190.7 1277.0,179.9 1277.5,169.2 1278.0,158.8 1278.5,148.7 1279.0,139.0 1279.5,129.7 1280.0,121.0 1280.5,112.7 1281.0,105.1 1281.5,98.1 1282.0,91.8 1282.5,86.2 1283.0,81.5 1283.5,77.5 1284.0,74.3 1284.5,72.0 1285.0,70.5 1285.5,69.9 1286.0,70.2 1286.5,71.3 1287.0,73.3 1287.5,76.2 1288.0,79.9 1288.5,84.4 1289.0,89.7 1289.5,95.7 1290.0,102.5 1290.5,109.9 1291.0,117.9 1291.5,126.5 1292.0,135.6 1292.5,145.2 1293.0,155.1 1293.5,165.4 1294.0,176.0 1294.5,186.8 1295.0,197.7 1295.5,208.6 1296.0,219.6 1296.5,230.5 1297.0,241.2 1297.5,251.7 1298.0,262.0 1298.5,271.9 1299.0,281.4 1299.5,290.5 1300.0,299.0 1300.5,306.9 1301.0,314.3 1301.5,320.9 1302.0,326.9 1302.5,332.0 1303.0,336.4 1303.5,340.0 1304.0,342.8 1304.5,344.7 1305.0,345.7 1305.5,345.9 1306.0,345.1 1306.5,343.6 1307.0,341.1 1307.5,337.8 1308.0,333.7 1308.5,328.8 1309.0,323.2 1309.5,316.8 1310.0,309.7 1310.5,302.0 1311.0,293.7 1311.5,284.8 1312.0,275.5 1312.5,265.7 1313.0,255.5 1313.5,245.1 1314.0,234.4 1314.5,223.6 1315.0,212.6 1315.5,201.6 1316.0,190.7 1316.5,179.9 1317.0,169.2 1317.5,158.8 1318.0,148.7 1318.5,139.0 1319.0,129.7 1319.5,120.9 1320.0,112.7 1320.5,105.1 1321.0,98.1 1321.5,91.8 1322.0,86.2 1322.5,81.4 1323.0,77.4 1323.5,74.3 1324.0,72.0 1324.5,70.5 1325.0,69.9 1325.5,70.2 1326.0,71.4 1326.5,73.4 1327.0,76.2 1327.5,80.0 1328.0,84.5 1328.5,89.8 1329.0,95.8 1329.5,102.6 1330.0,110.0 1330.5,118.0 1331.0,126.6 1331.5,135.7 1332.0,145.3 1332.5,155.3 1333.0,165.6 1333.5,176.2 1334.0,187.0 1334.5,197.9 1335.0,208.8 1335.5,219.8 1336.0,230.7 1336.5,241.4 1337.0,252.0 1337.5,262.2 1338.0,272.2 1338.5,281.7 1339.0,290.7 1339.5,299.2 1340.0,307.1 1340.5,314.5 1341.0,321.1 1341.5,327.0 1342.0,332.2 1342.5,336.5 1343.0,340.1 1343.5,342.8 1344.0,344.7 1344.5,345.7 1345.0,345.8 1345.5,345.1 1346.0,343.5 1346.5,341.0 1347.0,337.7 1347.5,333.6 1348.0,328.7 1348.5,323.0 1349.0,316.5 1349.5,309.4 1350.0,301.7 1350.5,293.3 1351.0,284.4 1351.5,275.1 1352.0,265.3 1352.5,255.1 1353.0,244.7 1353.5,234.0 1354.0,223.1 1354.5,212.2 1355.0,201.2 1355.5,190.2 1356.0,179.4 1356.5,168.8 1357.0,158.4 1357.5,148.3 1358.0,138.6 1358.5,129.3 1359.0,120.5 1359.5,112.3 1360.0,104.7 1360.5,97.7 1361.0,91.5 1361.5,86.0 1362.0,81.2 1362.5,77.3 1363.0,74.1 1363.5,71.9 1364.0,70.4 1364.5,69.9 1365.0,70.2 1365.5,71.4 1366.0,73.5 1366.5,76.4 1367.0,80.2 1367.5,84.7 1368.0,90.1 1368.5,96.2 1369.0,103.0 1369.5,110.4 1370.0,118.5 1370.5,127.2 1371.0,136.3 1371.5,145.9 1372.0,155.9 1372.5,166.3 1373.0,176.9 1373.5,187.7 1374.0,198.6 1374.5,209.6 1375.0,220.5 1375.5,231.4 1376.0,242.2 1376.5,252.7 1377.0,262.9 1377.5,272.8 1378.0,282.3 1378.5,291.3 1379.0,299.8 1379.5,307.7 1380.0,315.0 1380.5,321.5 1381.0,327.4 1381.5,332.5 1382.0,336.8 1382.5,340.3 1383.0,343.0 1383.5,344.8 1384.0,345.8 1384.5,345.8 1385.0,345.0 1385.5,343.3 1386.0,340.8 1386.5,337.4 1387.0,333.2 1387.5,328.2 1388.0,322.5 1388.5,316.0 1389.0,308.8 1389.5,301.0 1390.0,292.6 1390.5,283.7 1391.0,274.3 1391.5,264.4 1392.0,254.2 1392.5,243.7 1393.0,233.0 1393.5,222.2 1394.0,211.2 1394.5,200.2 1395.0,189.3 1395.5,178.4 1396.0,167.8 1396.5,157.4 1397.0,147.4 1397.5,137.7 1398.0,128.5 1398.5,119.7 1399.0,111.6 1399.5,104.0 1400.0,97.1 1400.5,90.9 1401.0,85.5 1401.5,80.8 1402.0,76.9 1402.5,73.9 1403.0,71.7"/>
<g stroke="#000" stroke-width="1.6" fill="none">
<line x1="136.8" y1="63.4" x2="136.8" y2="354.1"/>
<line x1="136.0" y1="353.3" x2="1403.0" y2="353.3"/>
<line x1="162.1" y1="353.3" x2="162.1" y2="359.8"/><line x1="212.7" y1="353.3" x2="212.7" y2="359.8"/><line x1="263.4" y1="353.3" x2="263.4" y2="364.8"/><line x1="314.0" y1="353.3" x2="314.0" y2="359.8"/><line x1="364.7" y1="353.3" x2="364.7" y2="359.8"/><line x1="415.4" y1="353.3" x2="415.4" y2="359.8"/><line x1="466.0" y1="353.3" x2="466.0" y2="359.8"/><line x1="516.7" y1="353.3" x2="516.7" y2="364.8"/><line x1="567.3" y1="353.3" x2="567.3" y2="359.8"/><line x1="618.0" y1="353.3" x2="618.0" y2="359.8"/><line x1="668.6" y1="353.3" x2="668.6" y2="359.8"/><line x1="719.3" y1="353.3" x2="719.3" y2="359.8"/><line x1="770.0" y1="353.3" x2="770.0" y2="364.8"/><line x1="820.6" y1="353.3" x2="820.6" y2="359.8"/><line x1="871.3" y1="353.3" x2="871.3" y2="359.8"/><line x1="921.9" y1="353.3" x2="921.9" y2="359.8"/><line x1="972.6" y1="353.3" x2="972.6" y2="359.8"/><line x1="1023.2" y1="353.3" x2="1023.2" y2="364.8"/><line x1="1073.9" y1="353.3" x2="1073.9" y2="359.8"/><line x1="1124.5" y1="353.3" x2="1124.5" y2="359.8"/><line x1="1175.2" y1="353.3" x2="1175.2" y2="359.8"/><line x1="1225.9" y1="353.3" x2="1225.9" y2="359.8"/><line x1="1276.5" y1="353.3" x2="1276.5" y2="364.8"/><line x1="1327.2" y1="353.3" x2="1327.2" y2="359.8"/><line x1="1377.8" y1="353.3" x2="1377.8" y2="359.8"/><line x1="122.30000000000001" y1="346.1" x2="136.8" y2="346.1"/><line x1="130.3" y1="332.3" x2="136.8" y2="332.3"/><line x1="130.3" y1="318.4" x2="136.8" y2="318.4"/><line x1="130.3" y1="304.6" x2="136.8" y2="304.6"/><line x1="130.3" y1="290.7" x2="136.8" y2="290.7"/><line x1="122.30000000000001" y1="276.9" x2="136.8" y2="276.9"/><line x1="130.3" y1="263.1" x2="136.8" y2="263.1"/><line x1="130.3" y1="249.2" x2="136.8" y2="249.2"/><line x1="130.3" y1="235.4" x2="136.8" y2="235.4"/><line x1="130.3" y1="221.5" x2="136.8" y2="221.5"/><line x1="122.30000000000001" y1="207.7" x2="136.8" y2="207.7"/><line x1="130.3" y1="193.9" x2="136.8" y2="193.9"/><line x1="130.3" y1="180.0" x2="136.8" y2="180.0"/><line x1="130.3" y1="166.2" x2="136.8" y2="166.2"/><line x1="130.3" y1="152.3" x2="136.8" y2="152.3"/><line x1="122.30000000000001" y1="138.5" x2="136.8" y2="138.5"/><line x1="130.3" y1="124.7" x2="136.8" y2="124.7"/><line x1="130.3" y1="110.8" x2="136.8" y2="110.8"/><line x1="130.3" y1="97.0" x2="136.8" y2="97.0"/><line x1="130.3" y1="83.1" x2="136.8" y2="83.1"/><line x1="122.30000000000001" y1="69.3" x2="136.8" y2="69.3"/>
</g>
<g fill="#000"><rect x="168" y="33.0" width="6" height="24.5"/><rect x="168" y="75.4" width="6" height="24.5"/><rect x="168" y="117.8" width="6" height="24.5"/><rect x="168" y="160.2" width="6" height="24.5"/><rect x="168" y="202.6" width="6" height="24.5"/><rect x="168" y="245.0" width="6" height="24.5"/><rect x="168" y="287.4" width="6" height="24.5"/><rect x="168" y="329.8" width="6" height="24.2"/><rect x="1379.5" y="33.0" width="6" height="24.5"/><rect x="1379.5" y="75.4" width="6" height="24.5"/><rect x="1379.5" y="117.8" width="6" height="24.5"/><rect x="1379.5" y="160.2" width="6" height="24.5"/><rect x="1379.5" y="202.6" width="6" height="24.5"/><rect x="1379.5" y="245.0" width="6" height="24.5"/><rect x="1379.5" y="287.4" width="6" height="24.5"/><rect x="1379.5" y="329.8" width="6" height="24.2"/></g>
<line x1="190" y1="48.4" x2="703.5" y2="48.4" stroke="#000" stroke-width="2"/>
<line x1="787.8" y1="48.4" x2="1350" y2="48.4" stroke="#000" stroke-width="2"/>
<polygon points="182.2,48.4 194,42.7 194,54.1" fill="#000"/>
<polygon points="1357.8,48.4 1346.5,42.7 1346.5,54.1" fill="#000"/>
<g class="serif" fill="#000" font-size="44">
<text x="114.3" y="86" text-anchor="end">1</text>
<text x="114.3" y="156" text-anchor="end">0.5</text>
<text x="114.3" y="225.5" text-anchor="end">0</text>
<text x="114.3" y="295" text-anchor="end">-0.5</text>
<text x="114.3" y="365" text-anchor="end">-1</text>
<text x="261.7" y="403.1" font-size="45" text-anchor="middle">-20</text>
<text x="515.2" y="403.1" font-size="45" text-anchor="middle">-10</text>
<text x="768.2" y="403.1" font-size="45" text-anchor="middle">0</text>
<text x="1022.3" y="403.1" font-size="45" text-anchor="middle">10</text>
<text x="1274.6" y="403.1" font-size="45" text-anchor="middle">20</text>
</g>
<text class="serif" x="718" y="53" font-size="47" fill="#000">2</text>
<text class="serif" transform="translate(741.3,53) scale(1.17,1.03)" font-size="47" fill="#000">τ</text>
<text class="serif" x="762.2" y="65.8" font-size="31.5" fill="#000">c</text>
<text class="sans" x="729.6" y="449.6" font-size="36" letter-spacing="0.55" fill="#000">Time, t</text>
<text class="sans" transform="translate(42.6,208.5) rotate(-90)" font-size="37" text-anchor="middle" fill="#000">Amplitude</text>
</svg>
</body></html>
